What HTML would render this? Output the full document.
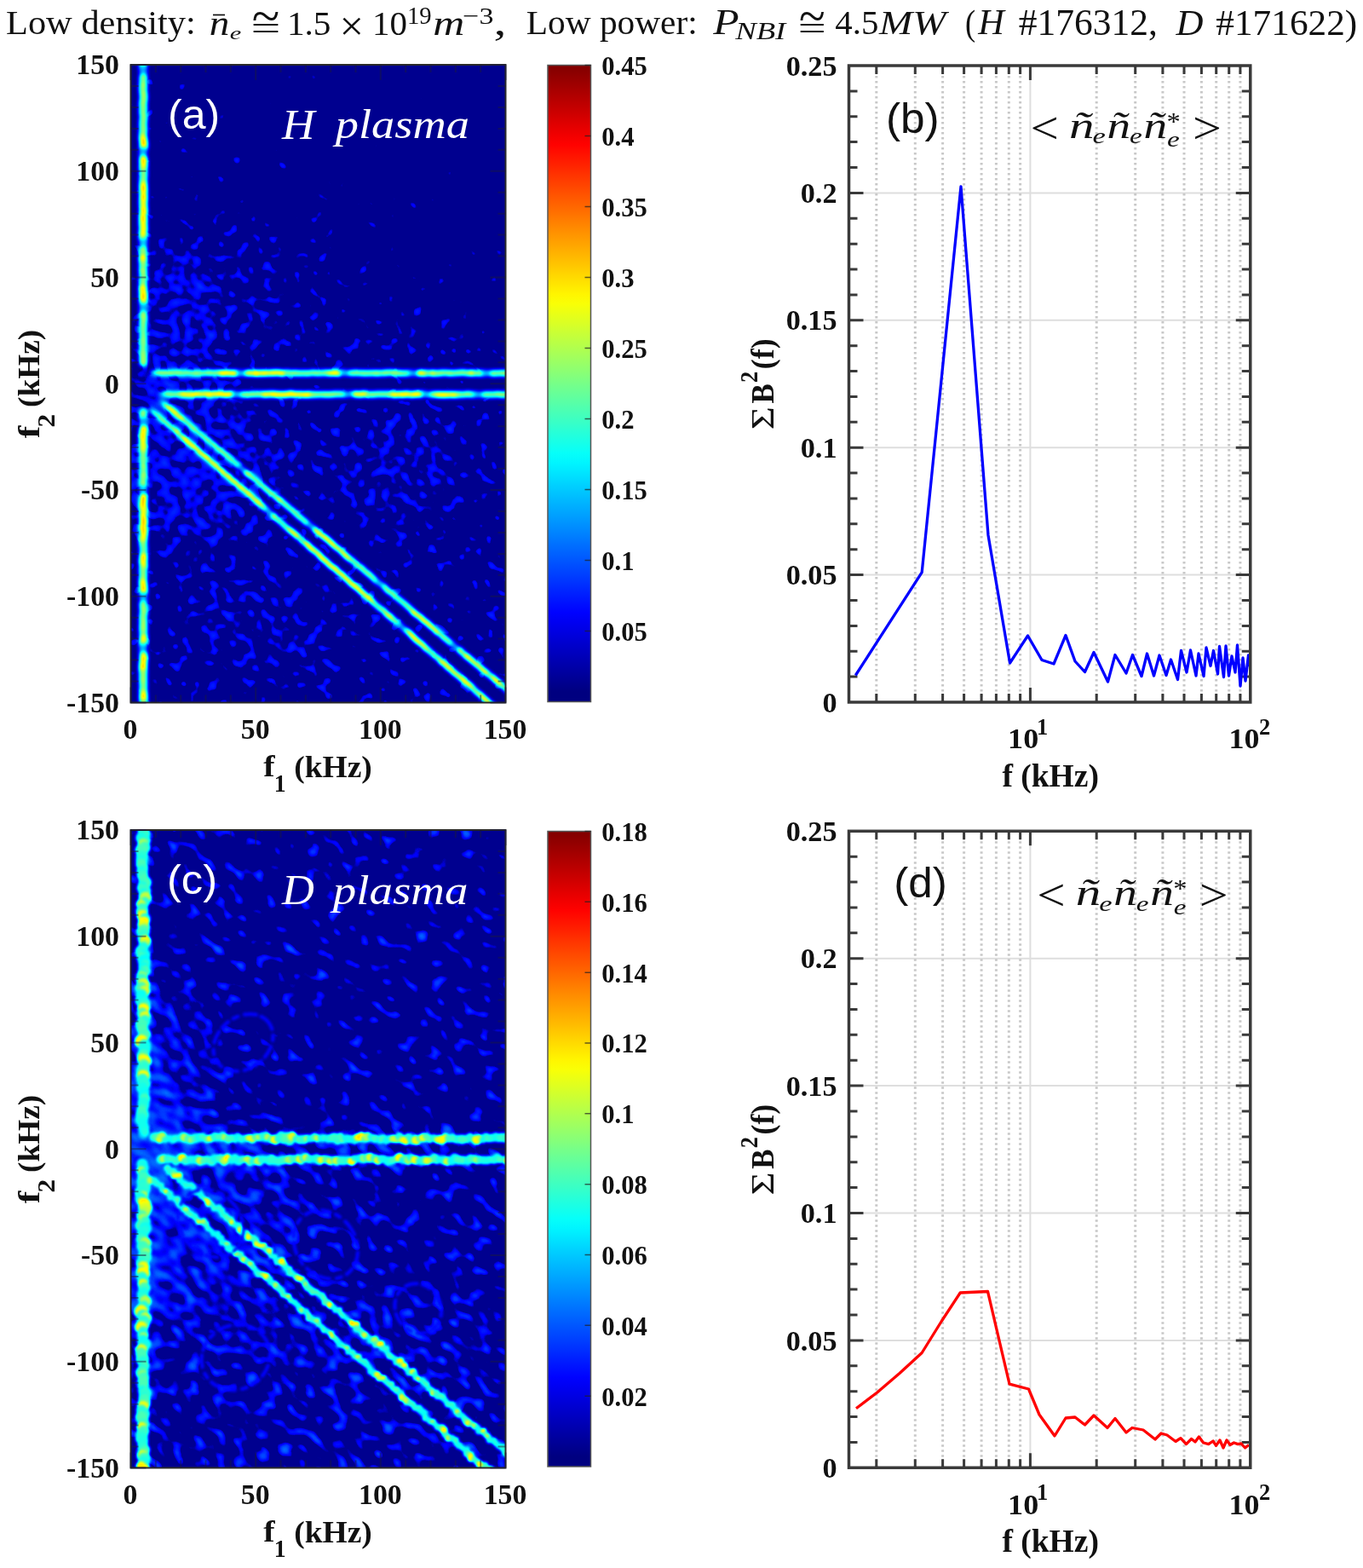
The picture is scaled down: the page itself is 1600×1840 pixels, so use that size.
<!DOCTYPE html><html><head><meta charset='utf-8'><title>Bispectrum</title><style>html,body{margin:0;padding:0;background:#fff;}svg{display:block;}</style></head><body><svg width='1600' height='1840' viewBox='0 0 1600 1840'><rect width='1600' height='1840' fill='#ffffff'/><defs><linearGradient id='jetg' x1='0' y1='0' x2='0' y2='1'><stop offset='0.0000' stop-color='#800000'/><stop offset='0.0156' stop-color='#900000'/><stop offset='0.0312' stop-color='#a00000'/><stop offset='0.0469' stop-color='#b00000'/><stop offset='0.0625' stop-color='#c00000'/><stop offset='0.0781' stop-color='#d00000'/><stop offset='0.0938' stop-color='#e10000'/><stop offset='0.1094' stop-color='#f10000'/><stop offset='0.1250' stop-color='#ff0200'/><stop offset='0.1406' stop-color='#ff1200'/><stop offset='0.1562' stop-color='#ff2200'/><stop offset='0.1719' stop-color='#ff3300'/><stop offset='0.1875' stop-color='#ff4300'/><stop offset='0.2031' stop-color='#ff5300'/><stop offset='0.2188' stop-color='#ff6300'/><stop offset='0.2344' stop-color='#ff7300'/><stop offset='0.2500' stop-color='#ff8400'/><stop offset='0.2656' stop-color='#ff9400'/><stop offset='0.2812' stop-color='#ffa400'/><stop offset='0.2969' stop-color='#ffb400'/><stop offset='0.3125' stop-color='#ffc400'/><stop offset='0.3281' stop-color='#ffd500'/><stop offset='0.3438' stop-color='#ffe500'/><stop offset='0.3594' stop-color='#fff500'/><stop offset='0.3750' stop-color='#f9ff06'/><stop offset='0.3906' stop-color='#e9ff16'/><stop offset='0.4062' stop-color='#d9ff26'/><stop offset='0.4219' stop-color='#c8ff37'/><stop offset='0.4375' stop-color='#b8ff47'/><stop offset='0.4531' stop-color='#a8ff57'/><stop offset='0.4688' stop-color='#98ff67'/><stop offset='0.4844' stop-color='#88ff77'/><stop offset='0.5000' stop-color='#77ff88'/><stop offset='0.5156' stop-color='#67ff98'/><stop offset='0.5312' stop-color='#57ffa8'/><stop offset='0.5469' stop-color='#47ffb8'/><stop offset='0.5625' stop-color='#37ffc8'/><stop offset='0.5781' stop-color='#26ffd9'/><stop offset='0.5938' stop-color='#16ffe9'/><stop offset='0.6094' stop-color='#06fff9'/><stop offset='0.6250' stop-color='#00f5ff'/><stop offset='0.6406' stop-color='#00e5ff'/><stop offset='0.6562' stop-color='#00d4ff'/><stop offset='0.6719' stop-color='#00c4ff'/><stop offset='0.6875' stop-color='#00b4ff'/><stop offset='0.7031' stop-color='#00a4ff'/><stop offset='0.7188' stop-color='#0094ff'/><stop offset='0.7344' stop-color='#0084ff'/><stop offset='0.7500' stop-color='#0073ff'/><stop offset='0.7656' stop-color='#0063ff'/><stop offset='0.7812' stop-color='#0053ff'/><stop offset='0.7969' stop-color='#0043ff'/><stop offset='0.8125' stop-color='#0033ff'/><stop offset='0.8281' stop-color='#0022ff'/><stop offset='0.8438' stop-color='#0012ff'/><stop offset='0.8594' stop-color='#0002ff'/><stop offset='0.8750' stop-color='#0000f1'/><stop offset='0.8906' stop-color='#0000e1'/><stop offset='0.9062' stop-color='#0000d0'/><stop offset='0.9219' stop-color='#0000c0'/><stop offset='0.9375' stop-color='#0000b0'/><stop offset='0.9531' stop-color='#0000a0'/><stop offset='0.9688' stop-color='#000090'/><stop offset='0.9844' stop-color='#000080'/></linearGradient><filter id='jetmap' color-interpolation-filters='sRGB'><feComponentTransfer><feFuncR type='table' tableValues='0.000 0.000 0.000 0.000 0.000 0.000 0.000 0.000 0.000 0.000 0.000 0.000 0.000 0.125 0.251 0.376 0.502 0.624 0.749 0.875 1.000 1.000 1.000 1.000 1.000 1.000 1.000 1.000 1.000 0.875 0.749 0.624 0.502'/><feFuncG type='table' tableValues='0.000 0.000 0.000 0.000 0.000 0.125 0.251 0.376 0.502 0.624 0.749 0.875 1.000 1.000 1.000 1.000 1.000 1.000 1.000 1.000 1.000 0.875 0.749 0.624 0.502 0.376 0.251 0.125 0.000 0.000 0.000 0.000 0.000'/><feFuncB type='table' tableValues='0.502 0.624 0.749 0.875 1.000 1.000 1.000 1.000 1.000 1.000 1.000 1.000 1.000 0.875 0.749 0.624 0.502 0.376 0.251 0.125 0.000 0.000 0.000 0.000 0.000 0.000 0.000 0.000 0.000 0.000 0.000 0.000 0.000'/></feComponentTransfer></filter><radialGradient id='dgw'><stop offset='0' stop-color='#fff' stop-opacity='1'/><stop offset='0.55' stop-color='#fff' stop-opacity='0.75'/><stop offset='1' stop-color='#fff' stop-opacity='0'/></radialGradient><radialGradient id='dgk'><stop offset='0' stop-color='#000' stop-opacity='1'/><stop offset='1' stop-color='#000' stop-opacity='0'/></radialGradient><clipPath id='hac'><rect x='153.5' y='76' width='440.0' height='748.5'/></clipPath><filter id='hat' filterUnits='userSpaceOnUse' x='-700' y='-700' width='1400' height='1400' color-interpolation-filters='sRGB'><feTurbulence type='fractalNoise' baseFrequency='0.1' numOctaves='1' seed='4'/><feColorMatrix type='matrix' values='1 0 0 0 0  1 0 0 0 0  1 0 0 0 0  0 0 0 0 1'/></filter><filter id='hah' filterUnits='userSpaceOnUse' x='153.5' y='76' width='440.0' height='748.5' color-interpolation-filters='sRGB'><feComponentTransfer><feFuncR type='table' tableValues='0.016 0.016 0.016 0.016 0.016 0.016 0.016 0.016 0.016 0.016 0.016 0.016 0.016 0.016 0.125 0.14 0.15 0.165 0.18 0.19 0.19'/><feFuncG type='table' tableValues='0.016 0.016 0.016 0.016 0.016 0.016 0.016 0.016 0.016 0.016 0.016 0.016 0.016 0.016 0.125 0.14 0.15 0.165 0.18 0.19 0.19'/><feFuncB type='table' tableValues='0.016 0.016 0.016 0.016 0.016 0.016 0.016 0.016 0.016 0.016 0.016 0.016 0.016 0.016 0.125 0.14 0.15 0.165 0.18 0.19 0.19'/></feComponentTransfer><feGaussianBlur stdDeviation='0.5'/></filter><filter id='hab' filterUnits='userSpaceOnUse' x='133.5' y='56' width='480.0' height='788.5' color-interpolation-filters='sRGB'><feGaussianBlur stdDeviation='2.0'/></filter><linearGradient id='hadg' gradientUnits='userSpaceOnUse' x1='153.5' y1='824.5' x2='593.5' y2='76'><stop offset='0' stop-color='#fff' stop-opacity='0.05'/><stop offset='0.3' stop-color='#fff' stop-opacity='0.08'/><stop offset='0.45' stop-color='#fff' stop-opacity='0.0'/><stop offset='0.6' stop-color='#000' stop-opacity='0.05'/><stop offset='1' stop-color='#000' stop-opacity='0.2'/></linearGradient><clipPath id='hcc'><rect x='153.5' y='974' width='440.0' height='748.5'/></clipPath><filter id='hct' filterUnits='userSpaceOnUse' x='-700' y='-700' width='1400' height='1400' color-interpolation-filters='sRGB'><feTurbulence type='fractalNoise' baseFrequency='0.08' numOctaves='1' seed='9'/><feColorMatrix type='matrix' values='1 0 0 0 0  1 0 0 0 0  1 0 0 0 0  0 0 0 0 1'/></filter><filter id='hch' filterUnits='userSpaceOnUse' x='153.5' y='974' width='440.0' height='748.5' color-interpolation-filters='sRGB'><feComponentTransfer><feFuncR type='table' tableValues='0.016 0.016 0.016 0.016 0.016 0.016 0.016 0.016 0.016 0.016 0.016 0.016 0.016 0.016 0.12 0.15 0.19 0.22 0.25 0.27 0.27'/><feFuncG type='table' tableValues='0.016 0.016 0.016 0.016 0.016 0.016 0.016 0.016 0.016 0.016 0.016 0.016 0.016 0.016 0.12 0.15 0.19 0.22 0.25 0.27 0.27'/><feFuncB type='table' tableValues='0.016 0.016 0.016 0.016 0.016 0.016 0.016 0.016 0.016 0.016 0.016 0.016 0.016 0.016 0.12 0.15 0.19 0.22 0.25 0.27 0.27'/></feComponentTransfer><feGaussianBlur stdDeviation='0.7'/></filter><filter id='hcb' filterUnits='userSpaceOnUse' x='133.5' y='954' width='480.0' height='788.5' color-interpolation-filters='sRGB'><feGaussianBlur stdDeviation='1.6'/></filter><linearGradient id='hcdg' gradientUnits='userSpaceOnUse' x1='153.5' y1='1722.5' x2='593.5' y2='974'><stop offset='0' stop-color='#fff' stop-opacity='0.24'/><stop offset='0.35' stop-color='#fff' stop-opacity='0.22'/><stop offset='0.55' stop-color='#fff' stop-opacity='0.15'/><stop offset='1' stop-color='#fff' stop-opacity='0.1'/></linearGradient></defs><text transform='translate(6.98,39.78) scale(1.084,1)' font-family="'Liberation Serif', 'DejaVu Serif', serif" font-size='39.17' font-weight='normal' font-style='normal' fill='#111'>Low density:</text>
<text transform='translate(245.85,41.45) scale(1.206,1)' font-family="'Liberation Serif', 'DejaVu Serif', serif" font-size='39.03' font-weight='normal' font-style='italic' fill='#111'>n</text>
<line x1='250' y1='17.5' x2='264' y2='17.5' stroke='#111' stroke-width='1.7'/>
<text transform='translate(269.68,46.04) scale(1.465,1)' font-family="'Liberation Serif', 'DejaVu Serif', serif" font-size='20.83' font-weight='normal' font-style='italic' fill='#111'>e</text>
<text transform='translate(295.70,39.25) scale(0.988,1)' font-family="'Liberation Serif', 'DejaVu Serif', serif" font-size='60.61' font-weight='normal' font-style='normal' fill='#111'>~</text>
<text transform='translate(294.41,46.25) scale(1.594,1)' font-family="'Liberation Serif', 'DejaVu Serif', serif" font-size='38.80' font-weight='normal' font-style='normal' fill='#111'>=</text>
<text transform='translate(938.00,39.25) scale(0.935,1)' font-family="'Liberation Serif', 'DejaVu Serif', serif" font-size='60.61' font-weight='normal' font-style='normal' fill='#111'>~</text>
<text transform='translate(936.78,46.25) scale(1.508,1)' font-family="'Liberation Serif', 'DejaVu Serif', serif" font-size='38.80' font-weight='normal' font-style='normal' fill='#111'>=</text>
<text transform='translate(336.88,40.63) scale(1.007,1)' font-family="'Liberation Serif', 'DejaVu Serif', serif" font-size='41.04' font-weight='normal' font-style='normal' fill='#111'>1.5</text>
<text transform='translate(398.45,46.81) scale(1.059,1)' font-family="'Liberation Serif', 'DejaVu Serif', serif" font-size='47.78' font-weight='normal' font-style='normal' fill='#111'>&#215;</text>
<text transform='translate(436.91,40.84) scale(1.006,1)' font-family="'Liberation Serif', 'DejaVu Serif', serif" font-size='40.74' font-weight='normal' font-style='normal' fill='#111'>10</text>
<text transform='translate(478.01,27.81) scale(0.995,1)' font-family="'Liberation Serif', 'DejaVu Serif', serif" font-size='28.88' font-weight='normal' font-style='normal' fill='#111'>19</text>
<text transform='translate(508.20,41.45) scale(1.273,1)' font-family="'Liberation Serif', 'DejaVu Serif', serif" font-size='40.32' font-weight='normal' font-style='italic' fill='#111'>m</text>
<text transform='translate(543.30,27.82) scale(1.216,1)' font-family="'Liberation Serif', 'DejaVu Serif', serif" font-size='27.91' font-weight='normal' font-style='normal' fill='#111'>&#8722;3</text>
<text transform='translate(579.50,41.13) scale(1.291,1)' font-family="'Liberation Serif', 'DejaVu Serif', serif" font-size='46.47' font-weight='normal' font-style='normal' fill='#111'>,</text>
<text transform='translate(617.76,39.58) scale(1.031,1)' font-family="'Liberation Serif', 'DejaVu Serif', serif" font-size='40.12' font-weight='normal' font-style='normal' fill='#111'>Low power:</text>
<text transform='translate(837.25,40.00) scale(1.196,1)' font-family="'Liberation Serif', 'DejaVu Serif', serif" font-size='41.53' font-weight='normal' font-style='italic' fill='#111'>P</text>
<text transform='translate(863.18,45.60) scale(1.287,1)' font-family="'Liberation Serif', 'DejaVu Serif', serif" font-size='28.55' font-weight='normal' font-style='italic' fill='#111'>NBI</text>
<text transform='translate(980.18,39.71) scale(1.043,1)' font-family="'Liberation Serif', 'DejaVu Serif', serif" font-size='39.25' font-weight='normal' font-style='normal' fill='#111'>4.5</text>
<text transform='translate(1032.07,39.69) scale(1.153,1)' font-family="'Liberation Serif', 'DejaVu Serif', serif" font-size='40.90' font-weight='normal' font-style='italic' fill='#111'>MW</text>
<text transform='translate(1133.06,40.73) scale(0.854,1)' font-family="'Liberation Serif', 'DejaVu Serif', serif" font-size='42.72' font-weight='normal' font-style='normal' fill='#111'>(</text>
<text transform='translate(1148.22,40.30) scale(1.019,1)' font-family="'Liberation Serif', 'DejaVu Serif', serif" font-size='41.53' font-weight='normal' font-style='italic' fill='#111'>H</text>
<text transform='translate(1195.73,41.21) scale(0.990,1)' font-family="'Liberation Serif', 'DejaVu Serif', serif" font-size='43.95' font-weight='normal' font-style='normal' fill='#111'>#176312,</text>
<text transform='translate(1380.44,41.00) scale(1.033,1)' font-family="'Liberation Serif', 'DejaVu Serif', serif" font-size='42.90' font-weight='normal' font-style='italic' fill='#111'>D</text>
<text transform='translate(1427.33,41.25) scale(1.004,1)' font-family="'Liberation Serif', 'DejaVu Serif', serif" font-size='43.11' font-weight='normal' font-style='normal' fill='#111'>#171622)</text>
<g clip-path='url(#hac)'><g filter='url(#jetmap)'>
<rect x='153.5' y='76' width='440.0' height='748.5' fill='#000'/>
<g filter='url(#hah)'>
<g transform='translate(373.5,450.2) rotate(38) scale(1.15,0.95)'><rect x='-700' y='-700' width='1400' height='1400' filter='url(#hat)'/></g>
<rect x='153.5' y='76' width='440.0' height='748.5' fill='url(#hadg)'/>
<ellipse cx='226.8' cy='537.6' rx='146.7' ry='149.7' fill='url(#dgw)' opacity='0.38'/>
<ellipse cx='197.5' cy='375.4' rx='73.3' ry='137.2' fill='url(#dgw)' opacity='0.32'/>
<ellipse cx='300.2' cy='737.2' rx='146.7' ry='87.3' fill='url(#dgw)' opacity='0.2'/>
<ellipse cx='285.5' cy='338.0' rx='117.3' ry='99.8' fill='url(#dgw)' opacity='0.24'/>
<ellipse cx='476.2' cy='550.0' rx='102.7' ry='112.3' fill='url(#dgw)' opacity='0.2'/>
<ellipse cx='446.8' cy='400.4' rx='176.0' ry='49.9' fill='url(#dgw)' opacity='0.18'/>
<ellipse cx='446.8' cy='550.0' rx='146.7' ry='74.9' fill='url(#dgw)' opacity='0.15'/>
</g>
<g filter='url(#hab)' stroke-linecap='round'>
<line x1='168.2' y1='71.0' x2='167.8' y2='76.1' stroke='#7b7b7b' stroke-width='9.5'/>
<line x1='167.8' y1='76.1' x2='167.9' y2='81.1' stroke='#8b8b8b' stroke-width='9.5'/>
<line x1='167.9' y1='81.1' x2='168.4' y2='86.2' stroke='#4b4b4b' stroke-width='9.5'/>
<line x1='168.4' y1='86.2' x2='168.2' y2='91.3' stroke='#474747' stroke-width='9.5'/>
<line x1='168.2' y1='91.3' x2='168.2' y2='96.3' stroke='#838383' stroke-width='9.5'/>
<line x1='168.2' y1='96.3' x2='168.0' y2='101.4' stroke='#7e7e7e' stroke-width='9.5'/>
<line x1='168.0' y1='101.4' x2='167.9' y2='106.4' stroke='#8a8a8a' stroke-width='9.5'/>
<line x1='167.9' y1='106.4' x2='168.6' y2='111.5' stroke='#828282' stroke-width='9.5'/>
<line x1='168.6' y1='111.5' x2='168.6' y2='116.6' stroke='#8a8a8a' stroke-width='9.5'/>
<line x1='168.6' y1='116.6' x2='167.8' y2='121.6' stroke='#888888' stroke-width='9.5'/>
<line x1='167.8' y1='121.6' x2='168.2' y2='126.7' stroke='#878787' stroke-width='9.5'/>
<line x1='168.2' y1='126.7' x2='167.9' y2='131.7' stroke='#838383' stroke-width='9.5'/>
<line x1='167.9' y1='131.7' x2='168.7' y2='136.8' stroke='#818181' stroke-width='9.5'/>
<line x1='168.7' y1='136.8' x2='168.2' y2='141.9' stroke='#848484' stroke-width='9.5'/>
<line x1='168.2' y1='141.9' x2='167.9' y2='146.9' stroke='#828282' stroke-width='9.5'/>
<line x1='167.9' y1='146.9' x2='168.4' y2='152.0' stroke='#808080' stroke-width='9.5'/>
<line x1='168.4' y1='152.0' x2='167.7' y2='157.1' stroke='#858585' stroke-width='9.5'/>
<line x1='167.7' y1='157.1' x2='167.8' y2='162.1' stroke='#828282' stroke-width='9.5'/>
<line x1='167.8' y1='162.1' x2='168.6' y2='167.2' stroke='#9f9f9f' stroke-width='9.5'/>
<line x1='168.6' y1='167.2' x2='168.6' y2='172.2' stroke='#aeaeae' stroke-width='9.5'/>
<line x1='168.6' y1='172.2' x2='168.1' y2='177.3' stroke='#acacac' stroke-width='9.5'/>
<line x1='168.1' y1='177.3' x2='167.7' y2='182.4' stroke='#494949' stroke-width='9.5'/>
<line x1='167.7' y1='182.4' x2='168.3' y2='187.4' stroke='#525252' stroke-width='9.5'/>
<line x1='168.3' y1='187.4' x2='168.5' y2='192.5' stroke='#ababab' stroke-width='9.5'/>
<line x1='168.5' y1='192.5' x2='168.2' y2='197.5' stroke='#a9a9a9' stroke-width='9.5'/>
<line x1='168.2' y1='197.5' x2='168.6' y2='202.6' stroke='#9c9c9c' stroke-width='9.5'/>
<line x1='168.6' y1='202.6' x2='168.4' y2='207.7' stroke='#7d7d7d' stroke-width='9.5'/>
<line x1='168.4' y1='207.7' x2='168.2' y2='212.7' stroke='#828282' stroke-width='9.5'/>
<line x1='168.2' y1='212.7' x2='168.2' y2='217.8' stroke='#828282' stroke-width='9.5'/>
<line x1='168.2' y1='217.8' x2='168.4' y2='222.8' stroke='#a4a4a4' stroke-width='9.5'/>
<line x1='168.4' y1='222.8' x2='168.4' y2='227.9' stroke='#afafaf' stroke-width='9.5'/>
<line x1='168.4' y1='227.9' x2='168.4' y2='233.0' stroke='#9f9f9f' stroke-width='9.5'/>
<line x1='168.4' y1='233.0' x2='168.2' y2='238.0' stroke='#adadad' stroke-width='9.5'/>
<line x1='168.2' y1='238.0' x2='168.4' y2='243.1' stroke='#9e9e9e' stroke-width='9.5'/>
<line x1='168.4' y1='243.1' x2='168.6' y2='248.2' stroke='#9e9e9e' stroke-width='9.5'/>
<line x1='168.6' y1='248.2' x2='167.8' y2='253.2' stroke='#aaaaaa' stroke-width='9.5'/>
<line x1='167.8' y1='253.2' x2='168.1' y2='258.3' stroke='#a0a0a0' stroke-width='9.5'/>
<line x1='168.1' y1='258.3' x2='168.0' y2='263.3' stroke='#acacac' stroke-width='9.5'/>
<line x1='168.0' y1='263.3' x2='168.5' y2='268.4' stroke='#a0a0a0' stroke-width='9.5'/>
<line x1='168.5' y1='268.4' x2='167.7' y2='273.5' stroke='#a3a3a3' stroke-width='9.5'/>
<line x1='167.7' y1='273.5' x2='167.8' y2='278.5' stroke='#a2a2a2' stroke-width='9.5'/>
<line x1='167.8' y1='278.5' x2='168.5' y2='283.6' stroke='#9c9c9c' stroke-width='9.5'/>
<line x1='168.5' y1='283.6' x2='168.3' y2='288.6' stroke='#545454' stroke-width='9.5'/>
<line x1='168.3' y1='288.6' x2='167.9' y2='293.7' stroke='#525252' stroke-width='9.5'/>
<line x1='167.9' y1='293.7' x2='168.0' y2='298.8' stroke='#8a8a8a' stroke-width='9.5'/>
<line x1='168.0' y1='298.8' x2='167.7' y2='303.8' stroke='#818181' stroke-width='9.5'/>
<line x1='167.7' y1='303.8' x2='168.2' y2='308.9' stroke='#aeaeae' stroke-width='9.5'/>
<line x1='168.2' y1='308.9' x2='167.8' y2='314.0' stroke='#8b8b8b' stroke-width='9.5'/>
<line x1='167.8' y1='314.0' x2='168.0' y2='319.0' stroke='#7d7d7d' stroke-width='9.5'/>
<line x1='168.0' y1='319.0' x2='168.4' y2='324.1' stroke='#8b8b8b' stroke-width='9.5'/>
<line x1='168.4' y1='324.1' x2='168.1' y2='329.1' stroke='#838383' stroke-width='9.5'/>
<line x1='168.1' y1='329.1' x2='167.8' y2='334.2' stroke='#808080' stroke-width='9.5'/>
<line x1='167.8' y1='334.2' x2='167.8' y2='339.3' stroke='#818181' stroke-width='9.5'/>
<line x1='167.8' y1='339.3' x2='168.2' y2='344.3' stroke='#a9a9a9' stroke-width='9.5'/>
<line x1='168.2' y1='344.3' x2='168.1' y2='349.4' stroke='#a2a2a2' stroke-width='9.5'/>
<line x1='168.1' y1='349.4' x2='168.6' y2='354.4' stroke='#afafaf' stroke-width='9.5'/>
<line x1='168.6' y1='354.4' x2='168.4' y2='359.5' stroke='#a2a2a2' stroke-width='9.5'/>
<line x1='168.4' y1='359.5' x2='167.9' y2='364.6' stroke='#515151' stroke-width='9.5'/>
<line x1='167.9' y1='364.6' x2='168.3' y2='369.6' stroke='#4a4a4a' stroke-width='9.5'/>
<line x1='168.3' y1='369.6' x2='168.5' y2='374.7' stroke='#8a8a8a' stroke-width='9.5'/>
<line x1='168.5' y1='374.7' x2='168.1' y2='379.7' stroke='#898989' stroke-width='9.5'/>
<line x1='168.1' y1='379.7' x2='168.0' y2='384.8' stroke='#828282' stroke-width='9.5'/>
<line x1='168.0' y1='384.8' x2='168.0' y2='389.9' stroke='#7e7e7e' stroke-width='9.5'/>
<line x1='168.0' y1='389.9' x2='168.3' y2='394.9' stroke='#7b7b7b' stroke-width='9.5'/>
<line x1='168.3' y1='394.9' x2='168.2' y2='400.0' stroke='#7e7e7e' stroke-width='9.5'/>
<line x1='168.2' y1='400.0' x2='168.2' y2='405.1' stroke='#848484' stroke-width='9.5'/>
<line x1='168.2' y1='405.1' x2='167.9' y2='410.1' stroke='#808080' stroke-width='9.5'/>
<line x1='167.9' y1='410.1' x2='168.1' y2='415.2' stroke='#7f7f7f' stroke-width='9.5'/>
<line x1='168.1' y1='415.2' x2='168.3' y2='420.2' stroke='#848484' stroke-width='9.5'/>
<line x1='168.3' y1='420.2' x2='168.2' y2='425.3' stroke='#898989' stroke-width='9.5'/>
<line x1='168.2' y1='483.9' x2='168.1' y2='488.9' stroke='#828282' stroke-width='9.5'/>
<line x1='168.1' y1='488.9' x2='168.6' y2='493.9' stroke='#858585' stroke-width='9.5'/>
<line x1='168.6' y1='493.9' x2='168.6' y2='499.0' stroke='#4b4b4b' stroke-width='9.5'/>
<line x1='168.6' y1='499.0' x2='168.6' y2='504.0' stroke='#4a4a4a' stroke-width='9.5'/>
<line x1='168.6' y1='504.0' x2='167.8' y2='509.0' stroke='#aeaeae' stroke-width='9.5'/>
<line x1='167.8' y1='509.0' x2='167.9' y2='514.0' stroke='#a2a2a2' stroke-width='9.5'/>
<line x1='167.9' y1='514.0' x2='167.8' y2='519.0' stroke='#a8a8a8' stroke-width='9.5'/>
<line x1='167.8' y1='519.0' x2='168.3' y2='524.0' stroke='#a0a0a0' stroke-width='9.5'/>
<line x1='168.3' y1='524.0' x2='168.1' y2='529.0' stroke='#9c9c9c' stroke-width='9.5'/>
<line x1='168.1' y1='529.0' x2='167.9' y2='534.0' stroke='#9c9c9c' stroke-width='9.5'/>
<line x1='167.9' y1='534.0' x2='168.3' y2='539.0' stroke='#7f7f7f' stroke-width='9.5'/>
<line x1='168.3' y1='539.0' x2='168.1' y2='544.0' stroke='#828282' stroke-width='9.5'/>
<line x1='168.1' y1='544.0' x2='168.4' y2='549.0' stroke='#7d7d7d' stroke-width='9.5'/>
<line x1='168.4' y1='549.0' x2='168.6' y2='554.0' stroke='#888888' stroke-width='9.5'/>
<line x1='168.6' y1='554.0' x2='168.4' y2='559.1' stroke='#7d7d7d' stroke-width='9.5'/>
<line x1='168.4' y1='559.1' x2='167.8' y2='564.1' stroke='#8b8b8b' stroke-width='9.5'/>
<line x1='167.8' y1='564.1' x2='168.1' y2='569.1' stroke='#808080' stroke-width='9.5'/>
<line x1='168.1' y1='569.1' x2='167.7' y2='574.1' stroke='#8a8a8a' stroke-width='9.5'/>
<line x1='167.7' y1='574.1' x2='168.2' y2='579.1' stroke='#535353' stroke-width='9.5'/>
<line x1='168.2' y1='579.1' x2='168.4' y2='584.1' stroke='#474747' stroke-width='9.5'/>
<line x1='168.4' y1='584.1' x2='167.9' y2='589.1' stroke='#afafaf' stroke-width='9.5'/>
<line x1='167.9' y1='589.1' x2='167.8' y2='594.1' stroke='#afafaf' stroke-width='9.5'/>
<line x1='167.8' y1='594.1' x2='168.7' y2='599.1' stroke='#ababab' stroke-width='9.5'/>
<line x1='168.7' y1='599.1' x2='168.0' y2='604.1' stroke='#9f9f9f' stroke-width='9.5'/>
<line x1='168.0' y1='604.1' x2='168.6' y2='609.1' stroke='#9e9e9e' stroke-width='9.5'/>
<line x1='168.6' y1='609.1' x2='168.6' y2='614.1' stroke='#a9a9a9' stroke-width='9.5'/>
<line x1='168.6' y1='614.1' x2='167.8' y2='619.2' stroke='#b0b0b0' stroke-width='9.5'/>
<line x1='167.8' y1='619.2' x2='168.6' y2='624.2' stroke='#a7a7a7' stroke-width='9.5'/>
<line x1='168.6' y1='624.2' x2='168.4' y2='629.2' stroke='#adadad' stroke-width='9.5'/>
<line x1='168.4' y1='629.2' x2='167.7' y2='634.2' stroke='#a3a3a3' stroke-width='9.5'/>
<line x1='167.7' y1='634.2' x2='168.2' y2='639.2' stroke='#a0a0a0' stroke-width='9.5'/>
<line x1='168.2' y1='639.2' x2='168.6' y2='644.2' stroke='#818181' stroke-width='9.5'/>
<line x1='168.6' y1='644.2' x2='168.5' y2='649.2' stroke='#7b7b7b' stroke-width='9.5'/>
<line x1='168.5' y1='649.2' x2='168.4' y2='654.2' stroke='#7c7c7c' stroke-width='9.5'/>
<line x1='168.4' y1='654.2' x2='167.9' y2='659.2' stroke='#adadad' stroke-width='9.5'/>
<line x1='167.9' y1='659.2' x2='168.6' y2='664.2' stroke='#a4a4a4' stroke-width='9.5'/>
<line x1='168.6' y1='664.2' x2='167.8' y2='669.2' stroke='#a0a0a0' stroke-width='9.5'/>
<line x1='167.8' y1='669.2' x2='168.3' y2='674.2' stroke='#838383' stroke-width='9.5'/>
<line x1='168.3' y1='674.2' x2='167.7' y2='679.2' stroke='#828282' stroke-width='9.5'/>
<line x1='167.7' y1='679.2' x2='167.8' y2='684.3' stroke='#878787' stroke-width='9.5'/>
<line x1='167.8' y1='684.3' x2='168.4' y2='689.3' stroke='#a5a5a5' stroke-width='9.5'/>
<line x1='168.4' y1='689.3' x2='168.4' y2='694.3' stroke='#a7a7a7' stroke-width='9.5'/>
<line x1='168.4' y1='694.3' x2='168.2' y2='699.3' stroke='#afafaf' stroke-width='9.5'/>
<line x1='168.2' y1='699.3' x2='168.6' y2='704.3' stroke='#4f4f4f' stroke-width='9.5'/>
<line x1='168.6' y1='704.3' x2='168.0' y2='709.3' stroke='#464646' stroke-width='9.5'/>
<line x1='168.0' y1='709.3' x2='168.6' y2='714.3' stroke='#7d7d7d' stroke-width='9.5'/>
<line x1='168.6' y1='714.3' x2='168.7' y2='719.3' stroke='#898989' stroke-width='9.5'/>
<line x1='168.7' y1='719.3' x2='167.7' y2='724.3' stroke='#868686' stroke-width='9.5'/>
<line x1='167.7' y1='724.3' x2='168.4' y2='729.3' stroke='#808080' stroke-width='9.5'/>
<line x1='168.4' y1='729.3' x2='168.1' y2='734.3' stroke='#878787' stroke-width='9.5'/>
<line x1='168.1' y1='734.3' x2='168.2' y2='739.3' stroke='#898989' stroke-width='9.5'/>
<line x1='168.2' y1='739.3' x2='168.4' y2='744.4' stroke='#8b8b8b' stroke-width='9.5'/>
<line x1='168.4' y1='744.4' x2='168.6' y2='749.4' stroke='#7d7d7d' stroke-width='9.5'/>
<line x1='168.6' y1='749.4' x2='167.8' y2='754.4' stroke='#a7a7a7' stroke-width='9.5'/>
<line x1='167.8' y1='754.4' x2='167.7' y2='759.4' stroke='#9c9c9c' stroke-width='9.5'/>
<line x1='167.7' y1='759.4' x2='167.7' y2='764.4' stroke='#505050' stroke-width='9.5'/>
<line x1='167.7' y1='764.4' x2='168.6' y2='769.4' stroke='#4a4a4a' stroke-width='9.5'/>
<line x1='168.6' y1='769.4' x2='168.5' y2='774.4' stroke='#9c9c9c' stroke-width='9.5'/>
<line x1='168.5' y1='774.4' x2='168.0' y2='779.4' stroke='#adadad' stroke-width='9.5'/>
<line x1='168.0' y1='779.4' x2='167.7' y2='784.4' stroke='#a1a1a1' stroke-width='9.5'/>
<line x1='167.7' y1='784.4' x2='168.1' y2='789.4' stroke='#b0b0b0' stroke-width='9.5'/>
<line x1='168.1' y1='789.4' x2='168.0' y2='794.4' stroke='#898989' stroke-width='9.5'/>
<line x1='168.0' y1='794.4' x2='168.0' y2='799.4' stroke='#868686' stroke-width='9.5'/>
<line x1='168.0' y1='799.4' x2='168.4' y2='804.4' stroke='#8a8a8a' stroke-width='9.5'/>
<line x1='168.4' y1='804.4' x2='168.1' y2='809.5' stroke='#818181' stroke-width='9.5'/>
<line x1='168.1' y1='809.5' x2='168.4' y2='814.5' stroke='#818181' stroke-width='9.5'/>
<line x1='168.4' y1='814.5' x2='168.4' y2='819.5' stroke='#9e9e9e' stroke-width='9.5'/>
<line x1='168.4' y1='819.5' x2='168.6' y2='824.5' stroke='#b0b0b0' stroke-width='9.5'/>
<line x1='168.6' y1='824.5' x2='168.2' y2='829.5' stroke='#818181' stroke-width='9.5'/>
<line x1='179.9' y1='437.8' x2='185.0' y2='437.4' stroke='#4f4f4f' stroke-width='7.5'/>
<line x1='185.0' y1='437.4' x2='190.0' y2='437.6' stroke='#858585' stroke-width='7.5'/>
<line x1='190.0' y1='437.6' x2='195.1' y2='437.5' stroke='#8a8a8a' stroke-width='7.5'/>
<line x1='195.1' y1='437.5' x2='200.1' y2='438.0' stroke='#898989' stroke-width='7.5'/>
<line x1='200.1' y1='438.0' x2='205.2' y2='437.3' stroke='#888888' stroke-width='7.5'/>
<line x1='205.2' y1='437.3' x2='210.2' y2='437.5' stroke='#808080' stroke-width='7.5'/>
<line x1='210.2' y1='437.5' x2='215.3' y2='437.7' stroke='#898989' stroke-width='7.5'/>
<line x1='215.3' y1='437.7' x2='220.3' y2='437.3' stroke='#7d7d7d' stroke-width='7.5'/>
<line x1='220.3' y1='437.3' x2='225.4' y2='437.9' stroke='#828282' stroke-width='7.5'/>
<line x1='225.4' y1='437.9' x2='230.4' y2='437.9' stroke='#7b7b7b' stroke-width='7.5'/>
<line x1='230.4' y1='437.9' x2='235.5' y2='438.1' stroke='#878787' stroke-width='7.5'/>
<line x1='235.5' y1='438.1' x2='240.5' y2='437.5' stroke='#808080' stroke-width='7.5'/>
<line x1='240.5' y1='437.5' x2='245.6' y2='437.6' stroke='#7a7a7a' stroke-width='7.5'/>
<line x1='245.6' y1='437.6' x2='250.7' y2='437.8' stroke='#8a8a8a' stroke-width='7.5'/>
<line x1='250.7' y1='437.8' x2='255.7' y2='437.5' stroke='#818181' stroke-width='7.5'/>
<line x1='255.7' y1='437.5' x2='260.8' y2='437.9' stroke='#848484' stroke-width='7.5'/>
<line x1='260.8' y1='437.9' x2='265.8' y2='437.5' stroke='#aeaeae' stroke-width='7.5'/>
<line x1='265.8' y1='437.5' x2='270.9' y2='438.0' stroke='#adadad' stroke-width='7.5'/>
<line x1='270.9' y1='438.0' x2='275.9' y2='438.1' stroke='#a3a3a3' stroke-width='7.5'/>
<line x1='275.9' y1='438.1' x2='281.0' y2='438.1' stroke='#ababab' stroke-width='7.5'/>
<line x1='281.0' y1='438.1' x2='286.0' y2='438.2' stroke='#4f4f4f' stroke-width='7.5'/>
<line x1='286.0' y1='438.2' x2='291.1' y2='437.8' stroke='#505050' stroke-width='7.5'/>
<line x1='291.1' y1='437.8' x2='296.1' y2='437.8' stroke='#a0a0a0' stroke-width='7.5'/>
<line x1='296.1' y1='437.8' x2='301.2' y2='438.1' stroke='#9f9f9f' stroke-width='7.5'/>
<line x1='301.2' y1='438.1' x2='306.2' y2='438.0' stroke='#aeaeae' stroke-width='7.5'/>
<line x1='306.2' y1='438.0' x2='311.3' y2='437.8' stroke='#a0a0a0' stroke-width='7.5'/>
<line x1='311.3' y1='437.8' x2='316.4' y2='437.7' stroke='#aaaaaa' stroke-width='7.5'/>
<line x1='316.4' y1='437.7' x2='321.4' y2='437.6' stroke='#9c9c9c' stroke-width='7.5'/>
<line x1='321.4' y1='437.6' x2='326.5' y2='437.4' stroke='#a8a8a8' stroke-width='7.5'/>
<line x1='326.5' y1='437.4' x2='331.5' y2='438.1' stroke='#a4a4a4' stroke-width='7.5'/>
<line x1='331.5' y1='438.1' x2='336.6' y2='437.4' stroke='#acacac' stroke-width='7.5'/>
<line x1='336.6' y1='437.4' x2='341.6' y2='438.0' stroke='#7d7d7d' stroke-width='7.5'/>
<line x1='341.6' y1='438.0' x2='346.7' y2='437.8' stroke='#828282' stroke-width='7.5'/>
<line x1='346.7' y1='437.8' x2='351.7' y2='438.2' stroke='#878787' stroke-width='7.5'/>
<line x1='351.7' y1='438.2' x2='356.8' y2='438.0' stroke='#7f7f7f' stroke-width='7.5'/>
<line x1='356.8' y1='438.0' x2='361.8' y2='438.2' stroke='#7c7c7c' stroke-width='7.5'/>
<line x1='361.8' y1='438.2' x2='366.9' y2='437.4' stroke='#808080' stroke-width='7.5'/>
<line x1='366.9' y1='437.4' x2='371.9' y2='437.8' stroke='#7e7e7e' stroke-width='7.5'/>
<line x1='371.9' y1='437.8' x2='377.0' y2='437.8' stroke='#868686' stroke-width='7.5'/>
<line x1='377.0' y1='437.8' x2='382.1' y2='437.6' stroke='#7c7c7c' stroke-width='7.5'/>
<line x1='382.1' y1='437.6' x2='387.1' y2='437.8' stroke='#828282' stroke-width='7.5'/>
<line x1='387.1' y1='437.8' x2='392.2' y2='437.6' stroke='#9c9c9c' stroke-width='7.5'/>
<line x1='392.2' y1='437.6' x2='397.2' y2='437.8' stroke='#aeaeae' stroke-width='7.5'/>
<line x1='397.2' y1='437.8' x2='402.3' y2='437.3' stroke='#aaaaaa' stroke-width='7.5'/>
<line x1='402.3' y1='437.3' x2='407.3' y2='437.7' stroke='#545454' stroke-width='7.5'/>
<line x1='407.3' y1='437.7' x2='412.4' y2='437.7' stroke='#4e4e4e' stroke-width='7.5'/>
<line x1='412.4' y1='437.7' x2='417.4' y2='437.6' stroke='#7c7c7c' stroke-width='7.5'/>
<line x1='417.4' y1='437.6' x2='422.5' y2='437.7' stroke='#838383' stroke-width='7.5'/>
<line x1='422.5' y1='437.7' x2='427.5' y2='438.1' stroke='#7d7d7d' stroke-width='7.5'/>
<line x1='427.5' y1='438.1' x2='432.6' y2='438.0' stroke='#828282' stroke-width='7.5'/>
<line x1='432.6' y1='438.0' x2='437.6' y2='437.8' stroke='#7e7e7e' stroke-width='7.5'/>
<line x1='437.6' y1='437.8' x2='442.7' y2='437.9' stroke='#808080' stroke-width='7.5'/>
<line x1='442.7' y1='437.9' x2='447.8' y2='437.7' stroke='#8a8a8a' stroke-width='7.5'/>
<line x1='447.8' y1='437.7' x2='452.8' y2='437.5' stroke='#7b7b7b' stroke-width='7.5'/>
<line x1='452.8' y1='437.5' x2='457.9' y2='437.3' stroke='#898989' stroke-width='7.5'/>
<line x1='457.9' y1='437.3' x2='462.9' y2='437.6' stroke='#818181' stroke-width='7.5'/>
<line x1='462.9' y1='437.6' x2='468.0' y2='437.9' stroke='#8a8a8a' stroke-width='7.5'/>
<line x1='468.0' y1='437.9' x2='473.0' y2='438.2' stroke='#898989' stroke-width='7.5'/>
<line x1='473.0' y1='438.2' x2='478.1' y2='438.1' stroke='#7d7d7d' stroke-width='7.5'/>
<line x1='478.1' y1='438.1' x2='483.1' y2='437.8' stroke='#7a7a7a' stroke-width='7.5'/>
<line x1='483.1' y1='437.8' x2='488.2' y2='438.3' stroke='#4f4f4f' stroke-width='7.5'/>
<line x1='488.2' y1='438.3' x2='493.2' y2='437.7' stroke='#464646' stroke-width='7.5'/>
<line x1='493.2' y1='437.7' x2='498.3' y2='438.1' stroke='#adadad' stroke-width='7.5'/>
<line x1='498.3' y1='438.1' x2='503.3' y2='437.7' stroke='#9c9c9c' stroke-width='7.5'/>
<line x1='503.3' y1='437.7' x2='508.4' y2='438.0' stroke='#7b7b7b' stroke-width='7.5'/>
<line x1='508.4' y1='438.0' x2='513.5' y2='438.3' stroke='#9d9d9d' stroke-width='7.5'/>
<line x1='513.5' y1='438.3' x2='518.5' y2='437.6' stroke='#878787' stroke-width='7.5'/>
<line x1='518.5' y1='437.6' x2='523.6' y2='437.4' stroke='#898989' stroke-width='7.5'/>
<line x1='523.6' y1='437.4' x2='528.6' y2='437.9' stroke='#818181' stroke-width='7.5'/>
<line x1='528.6' y1='437.9' x2='533.7' y2='437.8' stroke='#8b8b8b' stroke-width='7.5'/>
<line x1='533.7' y1='437.8' x2='538.7' y2='437.6' stroke='#7e7e7e' stroke-width='7.5'/>
<line x1='538.7' y1='437.6' x2='543.8' y2='437.3' stroke='#848484' stroke-width='7.5'/>
<line x1='543.8' y1='437.3' x2='548.8' y2='437.7' stroke='#848484' stroke-width='7.5'/>
<line x1='548.8' y1='437.7' x2='553.9' y2='437.7' stroke='#838383' stroke-width='7.5'/>
<line x1='553.9' y1='437.7' x2='558.9' y2='437.7' stroke='#a4a4a4' stroke-width='7.5'/>
<line x1='558.9' y1='437.7' x2='564.0' y2='438.1' stroke='#818181' stroke-width='7.5'/>
<line x1='564.0' y1='438.1' x2='569.0' y2='437.9' stroke='#868686' stroke-width='7.5'/>
<line x1='569.0' y1='437.9' x2='574.1' y2='438.0' stroke='#505050' stroke-width='7.5'/>
<line x1='574.1' y1='438.0' x2='579.2' y2='438.2' stroke='#505050' stroke-width='7.5'/>
<line x1='579.2' y1='438.2' x2='584.2' y2='438.0' stroke='#898989' stroke-width='7.5'/>
<line x1='584.2' y1='438.0' x2='589.3' y2='437.8' stroke='#7b7b7b' stroke-width='7.5'/>
<line x1='589.3' y1='437.8' x2='594.3' y2='438.0' stroke='#828282' stroke-width='7.5'/>
<line x1='594.3' y1='438.0' x2='599.4' y2='437.8' stroke='#8b8b8b' stroke-width='7.5'/>
<line x1='190.2' y1='462.7' x2='195.2' y2='462.3' stroke='#4b4b4b' stroke-width='7.5'/>
<line x1='195.2' y1='462.3' x2='200.3' y2='462.8' stroke='#7d7d7d' stroke-width='7.5'/>
<line x1='200.3' y1='462.8' x2='205.3' y2='462.7' stroke='#848484' stroke-width='7.5'/>
<line x1='205.3' y1='462.7' x2='210.4' y2='462.4' stroke='#7d7d7d' stroke-width='7.5'/>
<line x1='210.4' y1='462.4' x2='215.4' y2='462.6' stroke='#878787' stroke-width='7.5'/>
<line x1='215.4' y1='462.6' x2='220.5' y2='462.9' stroke='#a7a7a7' stroke-width='7.5'/>
<line x1='220.5' y1='462.9' x2='225.5' y2='463.1' stroke='#a1a1a1' stroke-width='7.5'/>
<line x1='225.5' y1='463.1' x2='230.6' y2='462.2' stroke='#a6a6a6' stroke-width='7.5'/>
<line x1='230.6' y1='462.2' x2='235.6' y2='462.7' stroke='#adadad' stroke-width='7.5'/>
<line x1='235.6' y1='462.7' x2='240.7' y2='462.3' stroke='#9f9f9f' stroke-width='7.5'/>
<line x1='240.7' y1='462.3' x2='245.7' y2='463.0' stroke='#9b9b9b' stroke-width='7.5'/>
<line x1='245.7' y1='463.0' x2='250.8' y2='462.3' stroke='#adadad' stroke-width='7.5'/>
<line x1='250.8' y1='462.3' x2='255.8' y2='462.3' stroke='#a1a1a1' stroke-width='7.5'/>
<line x1='255.8' y1='462.3' x2='260.9' y2='462.6' stroke='#a8a8a8' stroke-width='7.5'/>
<line x1='260.9' y1='462.6' x2='265.9' y2='463.0' stroke='#aeaeae' stroke-width='7.5'/>
<line x1='265.9' y1='463.0' x2='271.0' y2='462.5' stroke='#aaaaaa' stroke-width='7.5'/>
<line x1='271.0' y1='462.5' x2='276.0' y2='462.4' stroke='#b0b0b0' stroke-width='7.5'/>
<line x1='276.0' y1='462.4' x2='281.1' y2='463.0' stroke='#505050' stroke-width='7.5'/>
<line x1='281.1' y1='463.0' x2='286.2' y2='463.0' stroke='#515151' stroke-width='7.5'/>
<line x1='286.2' y1='463.0' x2='291.2' y2='463.1' stroke='#878787' stroke-width='7.5'/>
<line x1='291.2' y1='463.1' x2='296.3' y2='462.5' stroke='#828282' stroke-width='7.5'/>
<line x1='296.3' y1='462.5' x2='301.3' y2='462.6' stroke='#898989' stroke-width='7.5'/>
<line x1='301.3' y1='462.6' x2='306.4' y2='462.5' stroke='#848484' stroke-width='7.5'/>
<line x1='306.4' y1='462.5' x2='311.4' y2='462.8' stroke='#828282' stroke-width='7.5'/>
<line x1='311.4' y1='462.8' x2='316.5' y2='462.6' stroke='#aaaaaa' stroke-width='7.5'/>
<line x1='316.5' y1='462.6' x2='321.5' y2='462.6' stroke='#a1a1a1' stroke-width='7.5'/>
<line x1='321.5' y1='462.6' x2='326.6' y2='463.0' stroke='#ababab' stroke-width='7.5'/>
<line x1='326.6' y1='463.0' x2='331.6' y2='463.2' stroke='#a7a7a7' stroke-width='7.5'/>
<line x1='331.6' y1='463.2' x2='336.7' y2='462.8' stroke='#a7a7a7' stroke-width='7.5'/>
<line x1='336.7' y1='462.8' x2='341.7' y2='462.3' stroke='#a7a7a7' stroke-width='7.5'/>
<line x1='341.7' y1='462.3' x2='346.8' y2='462.9' stroke='#b0b0b0' stroke-width='7.5'/>
<line x1='346.8' y1='462.9' x2='351.8' y2='462.7' stroke='#a9a9a9' stroke-width='7.5'/>
<line x1='351.8' y1='462.7' x2='356.9' y2='463.2' stroke='#a1a1a1' stroke-width='7.5'/>
<line x1='356.9' y1='463.2' x2='361.9' y2='462.9' stroke='#a8a8a8' stroke-width='7.5'/>
<line x1='361.9' y1='462.9' x2='367.0' y2='463.1' stroke='#b0b0b0' stroke-width='7.5'/>
<line x1='367.0' y1='463.1' x2='372.0' y2='462.9' stroke='#8b8b8b' stroke-width='7.5'/>
<line x1='372.0' y1='462.9' x2='377.1' y2='462.8' stroke='#848484' stroke-width='7.5'/>
<line x1='377.1' y1='462.8' x2='382.1' y2='463.1' stroke='#818181' stroke-width='7.5'/>
<line x1='382.1' y1='463.1' x2='387.2' y2='463.1' stroke='#898989' stroke-width='7.5'/>
<line x1='387.2' y1='463.1' x2='392.2' y2='462.5' stroke='#898989' stroke-width='7.5'/>
<line x1='392.2' y1='462.5' x2='397.3' y2='462.4' stroke='#898989' stroke-width='7.5'/>
<line x1='397.3' y1='462.4' x2='402.3' y2='462.6' stroke='#828282' stroke-width='7.5'/>
<line x1='402.3' y1='462.6' x2='407.4' y2='462.7' stroke='#808080' stroke-width='7.5'/>
<line x1='407.4' y1='462.7' x2='412.4' y2='462.3' stroke='#4c4c4c' stroke-width='7.5'/>
<line x1='412.4' y1='462.3' x2='417.5' y2='462.6' stroke='#4a4a4a' stroke-width='7.5'/>
<line x1='417.5' y1='462.6' x2='422.6' y2='462.8' stroke='#a4a4a4' stroke-width='7.5'/>
<line x1='422.6' y1='462.8' x2='427.6' y2='462.3' stroke='#a1a1a1' stroke-width='7.5'/>
<line x1='427.6' y1='462.3' x2='432.7' y2='463.0' stroke='#a8a8a8' stroke-width='7.5'/>
<line x1='432.7' y1='463.0' x2='437.7' y2='462.9' stroke='#7e7e7e' stroke-width='7.5'/>
<line x1='437.7' y1='462.9' x2='442.8' y2='462.5' stroke='#878787' stroke-width='7.5'/>
<line x1='442.8' y1='462.5' x2='447.8' y2='462.5' stroke='#818181' stroke-width='7.5'/>
<line x1='447.8' y1='462.5' x2='452.9' y2='462.6' stroke='#828282' stroke-width='7.5'/>
<line x1='452.9' y1='462.6' x2='457.9' y2='462.6' stroke='#828282' stroke-width='7.5'/>
<line x1='457.9' y1='462.6' x2='463.0' y2='463.0' stroke='#868686' stroke-width='7.5'/>
<line x1='463.0' y1='463.0' x2='468.0' y2='462.7' stroke='#b0b0b0' stroke-width='7.5'/>
<line x1='468.0' y1='462.7' x2='473.1' y2='462.8' stroke='#a0a0a0' stroke-width='7.5'/>
<line x1='473.1' y1='462.8' x2='478.1' y2='462.4' stroke='#b0b0b0' stroke-width='7.5'/>
<line x1='478.1' y1='462.4' x2='483.2' y2='463.1' stroke='#ababab' stroke-width='7.5'/>
<line x1='483.2' y1='463.1' x2='488.2' y2='462.6' stroke='#9d9d9d' stroke-width='7.5'/>
<line x1='488.2' y1='462.6' x2='493.3' y2='462.6' stroke='#b1b1b1' stroke-width='7.5'/>
<line x1='493.3' y1='462.6' x2='498.3' y2='462.3' stroke='#a7a7a7' stroke-width='7.5'/>
<line x1='498.3' y1='462.3' x2='503.4' y2='463.2' stroke='#535353' stroke-width='7.5'/>
<line x1='503.4' y1='463.2' x2='508.4' y2='462.7' stroke='#545454' stroke-width='7.5'/>
<line x1='508.4' y1='462.7' x2='513.5' y2='463.1' stroke='#868686' stroke-width='7.5'/>
<line x1='513.5' y1='463.1' x2='518.5' y2='463.2' stroke='#a1a1a1' stroke-width='7.5'/>
<line x1='518.5' y1='463.2' x2='523.6' y2='463.2' stroke='#acacac' stroke-width='7.5'/>
<line x1='523.6' y1='463.2' x2='528.6' y2='463.0' stroke='#acacac' stroke-width='7.5'/>
<line x1='528.6' y1='463.0' x2='533.7' y2='463.2' stroke='#9d9d9d' stroke-width='7.5'/>
<line x1='533.7' y1='463.2' x2='538.7' y2='463.1' stroke='#a9a9a9' stroke-width='7.5'/>
<line x1='538.7' y1='463.1' x2='543.8' y2='463.0' stroke='#8a8a8a' stroke-width='7.5'/>
<line x1='543.8' y1='463.0' x2='548.8' y2='462.4' stroke='#7c7c7c' stroke-width='7.5'/>
<line x1='548.8' y1='462.4' x2='553.9' y2='462.7' stroke='#8a8a8a' stroke-width='7.5'/>
<line x1='553.9' y1='462.7' x2='559.0' y2='462.8' stroke='#818181' stroke-width='7.5'/>
<line x1='559.0' y1='462.8' x2='564.0' y2='463.2' stroke='#545454' stroke-width='7.5'/>
<line x1='564.0' y1='463.2' x2='569.1' y2='463.0' stroke='#494949' stroke-width='7.5'/>
<line x1='569.1' y1='463.0' x2='574.1' y2='462.9' stroke='#7e7e7e' stroke-width='7.5'/>
<line x1='574.1' y1='462.9' x2='579.2' y2='463.0' stroke='#808080' stroke-width='7.5'/>
<line x1='579.2' y1='463.0' x2='584.2' y2='462.6' stroke='#7a7a7a' stroke-width='7.5'/>
<line x1='584.2' y1='462.6' x2='589.3' y2='463.2' stroke='#858585' stroke-width='7.5'/>
<line x1='589.3' y1='463.2' x2='594.3' y2='462.9' stroke='#8b8b8b' stroke-width='7.5'/>
<line x1='594.3' y1='462.9' x2='599.4' y2='462.7' stroke='#828282' stroke-width='7.5'/>
<line x1='190.0' y1='471.6' x2='193.7' y2='475.0' stroke='#494949' stroke-width='6.5'/>
<line x1='193.7' y1='475.0' x2='197.5' y2='478.3' stroke='#818181' stroke-width='6.5'/>
<line x1='197.5' y1='478.3' x2='201.7' y2='481.0' stroke='#a9a9a9' stroke-width='6.5'/>
<line x1='201.7' y1='481.0' x2='205.5' y2='484.3' stroke='#a7a7a7' stroke-width='6.5'/>
<line x1='205.5' y1='484.3' x2='209.1' y2='487.8' stroke='#ababab' stroke-width='6.5'/>
<line x1='209.1' y1='487.8' x2='213.1' y2='490.8' stroke='#9c9c9c' stroke-width='6.5'/>
<line x1='213.1' y1='490.8' x2='217.2' y2='493.8' stroke='#aaaaaa' stroke-width='6.5'/>
<line x1='217.2' y1='493.8' x2='221.0' y2='497.0' stroke='#7c7c7c' stroke-width='6.5'/>
<line x1='221.0' y1='497.0' x2='224.6' y2='500.5' stroke='#7e7e7e' stroke-width='6.5'/>
<line x1='224.6' y1='500.5' x2='228.4' y2='503.7' stroke='#898989' stroke-width='6.5'/>
<line x1='228.4' y1='503.7' x2='232.0' y2='507.2' stroke='#898989' stroke-width='6.5'/>
<line x1='232.0' y1='507.2' x2='236.1' y2='510.1' stroke='#818181' stroke-width='6.5'/>
<line x1='236.1' y1='510.1' x2='239.9' y2='513.4' stroke='#7c7c7c' stroke-width='6.5'/>
<line x1='239.9' y1='513.4' x2='244.1' y2='516.2' stroke='#7f7f7f' stroke-width='6.5'/>
<line x1='244.1' y1='516.2' x2='247.7' y2='519.6' stroke='#888888' stroke-width='6.5'/>
<line x1='247.7' y1='519.6' x2='251.7' y2='522.7' stroke='#7a7a7a' stroke-width='6.5'/>
<line x1='251.7' y1='522.7' x2='255.3' y2='526.3' stroke='#8a8a8a' stroke-width='6.5'/>
<line x1='255.3' y1='526.3' x2='259.4' y2='529.1' stroke='#818181' stroke-width='6.5'/>
<line x1='259.4' y1='529.1' x2='263.3' y2='532.3' stroke='#898989' stroke-width='6.5'/>
<line x1='263.3' y1='532.3' x2='267.0' y2='535.6' stroke='#878787' stroke-width='6.5'/>
<line x1='267.0' y1='535.6' x2='270.8' y2='538.9' stroke='#818181' stroke-width='6.5'/>
<line x1='270.8' y1='538.9' x2='274.7' y2='542.0' stroke='#818181' stroke-width='6.5'/>
<line x1='274.7' y1='542.0' x2='278.4' y2='545.4' stroke='#7b7b7b' stroke-width='6.5'/>
<line x1='278.4' y1='545.4' x2='282.5' y2='548.3' stroke='#7b7b7b' stroke-width='6.5'/>
<line x1='282.5' y1='548.3' x2='285.9' y2='552.0' stroke='#454545' stroke-width='6.5'/>
<line x1='285.9' y1='552.0' x2='289.9' y2='555.1' stroke='#454545' stroke-width='6.5'/>
<line x1='289.9' y1='555.1' x2='293.8' y2='558.2' stroke='#a3a3a3' stroke-width='6.5'/>
<line x1='293.8' y1='558.2' x2='298.0' y2='561.0' stroke='#8a8a8a' stroke-width='6.5'/>
<line x1='298.0' y1='561.0' x2='301.6' y2='564.4' stroke='#888888' stroke-width='6.5'/>
<line x1='301.6' y1='564.4' x2='305.3' y2='567.9' stroke='#7e7e7e' stroke-width='6.5'/>
<line x1='305.3' y1='567.9' x2='309.1' y2='571.1' stroke='#7e7e7e' stroke-width='6.5'/>
<line x1='309.1' y1='571.1' x2='312.9' y2='574.4' stroke='#808080' stroke-width='6.5'/>
<line x1='312.9' y1='574.4' x2='316.7' y2='577.7' stroke='#8a8a8a' stroke-width='6.5'/>
<line x1='316.7' y1='577.7' x2='320.9' y2='580.5' stroke='#898989' stroke-width='6.5'/>
<line x1='320.9' y1='580.5' x2='324.6' y2='583.8' stroke='#858585' stroke-width='6.5'/>
<line x1='324.6' y1='583.8' x2='328.6' y2='586.9' stroke='#878787' stroke-width='6.5'/>
<line x1='328.6' y1='586.9' x2='332.5' y2='589.9' stroke='#a3a3a3' stroke-width='6.5'/>
<line x1='332.5' y1='589.9' x2='336.4' y2='593.2' stroke='#828282' stroke-width='6.5'/>
<line x1='336.4' y1='593.2' x2='340.1' y2='596.5' stroke='#858585' stroke-width='6.5'/>
<line x1='340.1' y1='596.5' x2='344.1' y2='599.5' stroke='#7b7b7b' stroke-width='6.5'/>
<line x1='344.1' y1='599.5' x2='347.7' y2='603.1' stroke='#898989' stroke-width='6.5'/>
<line x1='347.7' y1='603.1' x2='351.4' y2='606.4' stroke='#828282' stroke-width='6.5'/>
<line x1='351.4' y1='606.4' x2='355.3' y2='609.5' stroke='#868686' stroke-width='6.5'/>
<line x1='355.3' y1='609.5' x2='359.1' y2='612.8' stroke='#7a7a7a' stroke-width='6.5'/>
<line x1='359.1' y1='612.8' x2='363.2' y2='615.7' stroke='#818181' stroke-width='6.5'/>
<line x1='363.2' y1='615.7' x2='367.1' y2='618.9' stroke='#484848' stroke-width='6.5'/>
<line x1='367.1' y1='618.9' x2='370.7' y2='622.3' stroke='#505050' stroke-width='6.5'/>
<line x1='370.7' y1='622.3' x2='374.4' y2='625.8' stroke='#a9a9a9' stroke-width='6.5'/>
<line x1='374.4' y1='625.8' x2='378.5' y2='628.6' stroke='#a5a5a5' stroke-width='6.5'/>
<line x1='378.5' y1='628.6' x2='382.6' y2='631.5' stroke='#a6a6a6' stroke-width='6.5'/>
<line x1='382.6' y1='631.5' x2='386.4' y2='634.8' stroke='#ababab' stroke-width='6.5'/>
<line x1='386.4' y1='634.8' x2='390.1' y2='638.2' stroke='#a7a7a7' stroke-width='6.5'/>
<line x1='390.1' y1='638.2' x2='393.8' y2='641.6' stroke='#afafaf' stroke-width='6.5'/>
<line x1='393.8' y1='641.6' x2='397.9' y2='644.4' stroke='#9e9e9e' stroke-width='6.5'/>
<line x1='397.9' y1='644.4' x2='401.7' y2='647.7' stroke='#9d9d9d' stroke-width='6.5'/>
<line x1='401.7' y1='647.7' x2='405.2' y2='651.3' stroke='#9f9f9f' stroke-width='6.5'/>
<line x1='405.2' y1='651.3' x2='408.9' y2='654.7' stroke='#a9a9a9' stroke-width='6.5'/>
<line x1='408.9' y1='654.7' x2='413.2' y2='657.4' stroke='#a1a1a1' stroke-width='6.5'/>
<line x1='413.2' y1='657.4' x2='416.8' y2='660.8' stroke='#888888' stroke-width='6.5'/>
<line x1='416.8' y1='660.8' x2='420.7' y2='664.0' stroke='#7a7a7a' stroke-width='6.5'/>
<line x1='420.7' y1='664.0' x2='424.9' y2='666.8' stroke='#858585' stroke-width='6.5'/>
<line x1='424.9' y1='666.8' x2='428.5' y2='670.3' stroke='#8a8a8a' stroke-width='6.5'/>
<line x1='428.5' y1='670.3' x2='432.5' y2='673.3' stroke='#818181' stroke-width='6.5'/>
<line x1='432.5' y1='673.3' x2='436.3' y2='676.6' stroke='#8b8b8b' stroke-width='6.5'/>
<line x1='436.3' y1='676.6' x2='439.8' y2='680.2' stroke='#858585' stroke-width='6.5'/>
<line x1='439.8' y1='680.2' x2='443.7' y2='683.4' stroke='#7e7e7e' stroke-width='6.5'/>
<line x1='443.7' y1='683.4' x2='448.0' y2='686.1' stroke='#535353' stroke-width='6.5'/>
<line x1='448.0' y1='686.1' x2='451.8' y2='689.3' stroke='#545454' stroke-width='6.5'/>
<line x1='451.8' y1='689.3' x2='455.2' y2='693.0' stroke='#818181' stroke-width='6.5'/>
<line x1='455.2' y1='693.0' x2='459.5' y2='695.7' stroke='#8a8a8a' stroke-width='6.5'/>
<line x1='459.5' y1='695.7' x2='463.2' y2='699.1' stroke='#868686' stroke-width='6.5'/>
<line x1='463.2' y1='699.1' x2='467.0' y2='702.3' stroke='#858585' stroke-width='6.5'/>
<line x1='467.0' y1='702.3' x2='471.0' y2='705.3' stroke='#7e7e7e' stroke-width='6.5'/>
<line x1='471.0' y1='705.3' x2='474.9' y2='708.5' stroke='#7c7c7c' stroke-width='6.5'/>
<line x1='474.9' y1='708.5' x2='478.7' y2='711.8' stroke='#818181' stroke-width='6.5'/>
<line x1='478.7' y1='711.8' x2='482.3' y2='715.2' stroke='#858585' stroke-width='6.5'/>
<line x1='482.3' y1='715.2' x2='485.8' y2='718.8' stroke='#8b8b8b' stroke-width='6.5'/>
<line x1='485.8' y1='718.8' x2='489.9' y2='721.8' stroke='#b0b0b0' stroke-width='6.5'/>
<line x1='489.9' y1='721.8' x2='494.0' y2='724.7' stroke='#a1a1a1' stroke-width='6.5'/>
<line x1='494.0' y1='724.7' x2='497.5' y2='728.2' stroke='#a8a8a8' stroke-width='6.5'/>
<line x1='497.5' y1='728.2' x2='501.7' y2='731.1' stroke='#aaaaaa' stroke-width='6.5'/>
<line x1='501.7' y1='731.1' x2='505.3' y2='734.5' stroke='#a7a7a7' stroke-width='6.5'/>
<line x1='505.3' y1='734.5' x2='509.3' y2='737.6' stroke='#a6a6a6' stroke-width='6.5'/>
<line x1='509.3' y1='737.6' x2='512.8' y2='741.3' stroke='#9f9f9f' stroke-width='6.5'/>
<line x1='512.8' y1='741.3' x2='517.0' y2='744.0' stroke='#a3a3a3' stroke-width='6.5'/>
<line x1='517.0' y1='744.0' x2='520.5' y2='747.6' stroke='#808080' stroke-width='6.5'/>
<line x1='520.5' y1='747.6' x2='524.5' y2='750.7' stroke='#898989' stroke-width='6.5'/>
<line x1='524.5' y1='750.7' x2='528.2' y2='754.0' stroke='#858585' stroke-width='6.5'/>
<line x1='528.2' y1='754.0' x2='532.2' y2='757.0' stroke='#808080' stroke-width='6.5'/>
<line x1='532.2' y1='757.0' x2='535.9' y2='760.4' stroke='#494949' stroke-width='6.5'/>
<line x1='535.9' y1='760.4' x2='540.0' y2='763.3' stroke='#4a4a4a' stroke-width='6.5'/>
<line x1='540.0' y1='763.3' x2='543.7' y2='766.7' stroke='#a0a0a0' stroke-width='6.5'/>
<line x1='543.7' y1='766.7' x2='547.6' y2='769.9' stroke='#838383' stroke-width='6.5'/>
<line x1='547.6' y1='769.9' x2='551.5' y2='773.0' stroke='#aeaeae' stroke-width='6.5'/>
<line x1='551.5' y1='773.0' x2='555.3' y2='776.2' stroke='#a7a7a7' stroke-width='6.5'/>
<line x1='555.3' y1='776.2' x2='559.2' y2='779.4' stroke='#9f9f9f' stroke-width='6.5'/>
<line x1='559.2' y1='779.4' x2='563.1' y2='782.5' stroke='#9d9d9d' stroke-width='6.5'/>
<line x1='563.1' y1='782.5' x2='566.6' y2='786.1' stroke='#9c9c9c' stroke-width='6.5'/>
<line x1='566.6' y1='786.1' x2='570.6' y2='789.1' stroke='#a3a3a3' stroke-width='6.5'/>
<line x1='570.6' y1='789.1' x2='574.5' y2='792.3' stroke='#a8a8a8' stroke-width='6.5'/>
<line x1='574.5' y1='792.3' x2='578.7' y2='795.1' stroke='#7b7b7b' stroke-width='6.5'/>
<line x1='578.7' y1='795.1' x2='582.3' y2='798.6' stroke='#a1a1a1' stroke-width='6.5'/>
<line x1='582.3' y1='798.6' x2='586.3' y2='801.6' stroke='#b0b0b0' stroke-width='6.5'/>
<line x1='586.3' y1='801.6' x2='590.1' y2='804.8' stroke='#adadad' stroke-width='6.5'/>
<line x1='590.1' y1='804.8' x2='593.9' y2='808.2' stroke='#808080' stroke-width='6.5'/>
<line x1='593.9' y1='808.2' x2='597.6' y2='811.5' stroke='#7c7c7c' stroke-width='6.5'/>
<line x1='597.6' y1='811.5' x2='601.5' y2='814.7' stroke='#7e7e7e' stroke-width='6.5'/>
<line x1='177.7' y1='481.0' x2='181.5' y2='484.3' stroke='#545454' stroke-width='6.5'/>
<line x1='181.5' y1='484.3' x2='185.4' y2='487.4' stroke='#7a7a7a' stroke-width='6.5'/>
<line x1='185.4' y1='487.4' x2='188.9' y2='491.1' stroke='#808080' stroke-width='6.5'/>
<line x1='188.9' y1='491.1' x2='192.8' y2='494.2' stroke='#838383' stroke-width='6.5'/>
<line x1='192.8' y1='494.2' x2='196.6' y2='497.5' stroke='#848484' stroke-width='6.5'/>
<line x1='196.6' y1='497.5' x2='200.3' y2='500.9' stroke='#858585' stroke-width='6.5'/>
<line x1='200.3' y1='500.9' x2='204.4' y2='503.8' stroke='#828282' stroke-width='6.5'/>
<line x1='204.4' y1='503.8' x2='208.3' y2='506.9' stroke='#888888' stroke-width='6.5'/>
<line x1='208.3' y1='506.9' x2='211.6' y2='510.8' stroke='#a2a2a2' stroke-width='6.5'/>
<line x1='211.6' y1='510.8' x2='215.7' y2='513.7' stroke='#7d7d7d' stroke-width='6.5'/>
<line x1='215.7' y1='513.7' x2='219.2' y2='517.3' stroke='#a6a6a6' stroke-width='6.5'/>
<line x1='219.2' y1='517.3' x2='222.9' y2='520.7' stroke='#b1b1b1' stroke-width='6.5'/>
<line x1='222.9' y1='520.7' x2='226.9' y2='523.7' stroke='#a8a8a8' stroke-width='6.5'/>
<line x1='226.9' y1='523.7' x2='231.0' y2='526.6' stroke='#a9a9a9' stroke-width='6.5'/>
<line x1='231.0' y1='526.6' x2='234.3' y2='530.5' stroke='#a1a1a1' stroke-width='6.5'/>
<line x1='234.3' y1='530.5' x2='238.2' y2='533.6' stroke='#a7a7a7' stroke-width='6.5'/>
<line x1='238.2' y1='533.6' x2='242.3' y2='536.6' stroke='#a8a8a8' stroke-width='6.5'/>
<line x1='242.3' y1='536.6' x2='246.1' y2='539.8' stroke='#afafaf' stroke-width='6.5'/>
<line x1='246.1' y1='539.8' x2='249.7' y2='543.3' stroke='#a1a1a1' stroke-width='6.5'/>
<line x1='249.7' y1='543.3' x2='253.7' y2='546.3' stroke='#a1a1a1' stroke-width='6.5'/>
<line x1='253.7' y1='546.3' x2='257.0' y2='550.2' stroke='#a5a5a5' stroke-width='6.5'/>
<line x1='257.0' y1='550.2' x2='260.9' y2='553.3' stroke='#a1a1a1' stroke-width='6.5'/>
<line x1='260.9' y1='553.3' x2='264.6' y2='556.7' stroke='#b0b0b0' stroke-width='6.5'/>
<line x1='264.6' y1='556.7' x2='268.7' y2='559.6' stroke='#9c9c9c' stroke-width='6.5'/>
<line x1='268.7' y1='559.6' x2='272.1' y2='563.3' stroke='#afafaf' stroke-width='6.5'/>
<line x1='272.1' y1='563.3' x2='276.4' y2='566.0' stroke='#9e9e9e' stroke-width='6.5'/>
<line x1='276.4' y1='566.0' x2='279.8' y2='569.7' stroke='#a3a3a3' stroke-width='6.5'/>
<line x1='279.8' y1='569.7' x2='283.9' y2='572.6' stroke='#9b9b9b' stroke-width='6.5'/>
<line x1='283.9' y1='572.6' x2='287.9' y2='575.7' stroke='#ababab' stroke-width='6.5'/>
<line x1='287.9' y1='575.7' x2='291.6' y2='579.1' stroke='#9c9c9c' stroke-width='6.5'/>
<line x1='291.6' y1='579.1' x2='295.3' y2='582.4' stroke='#a9a9a9' stroke-width='6.5'/>
<line x1='295.3' y1='582.4' x2='298.7' y2='586.1' stroke='#a4a4a4' stroke-width='6.5'/>
<line x1='298.7' y1='586.1' x2='302.8' y2='589.1' stroke='#9f9f9f' stroke-width='6.5'/>
<line x1='302.8' y1='589.1' x2='306.5' y2='592.5' stroke='#a8a8a8' stroke-width='6.5'/>
<line x1='306.5' y1='592.5' x2='310.2' y2='595.9' stroke='#9f9f9f' stroke-width='6.5'/>
<line x1='310.2' y1='595.9' x2='314.2' y2='598.9' stroke='#808080' stroke-width='6.5'/>
<line x1='314.2' y1='598.9' x2='317.8' y2='602.5' stroke='#505050' stroke-width='6.5'/>
<line x1='317.8' y1='602.5' x2='321.5' y2='605.8' stroke='#484848' stroke-width='6.5'/>
<line x1='321.5' y1='605.8' x2='325.2' y2='609.2' stroke='#9c9c9c' stroke-width='6.5'/>
<line x1='325.2' y1='609.2' x2='329.2' y2='612.2' stroke='#7a7a7a' stroke-width='6.5'/>
<line x1='329.2' y1='612.2' x2='332.8' y2='615.7' stroke='#7b7b7b' stroke-width='6.5'/>
<line x1='332.8' y1='615.7' x2='336.5' y2='619.1' stroke='#7b7b7b' stroke-width='6.5'/>
<line x1='336.5' y1='619.1' x2='340.4' y2='622.2' stroke='#7e7e7e' stroke-width='6.5'/>
<line x1='340.4' y1='622.2' x2='344.4' y2='625.2' stroke='#a3a3a3' stroke-width='6.5'/>
<line x1='344.4' y1='625.2' x2='348.3' y2='628.4' stroke='#a9a9a9' stroke-width='6.5'/>
<line x1='348.3' y1='628.4' x2='352.2' y2='631.6' stroke='#aaaaaa' stroke-width='6.5'/>
<line x1='352.2' y1='631.6' x2='355.5' y2='635.4' stroke='#818181' stroke-width='6.5'/>
<line x1='355.5' y1='635.4' x2='359.8' y2='638.1' stroke='#7a7a7a' stroke-width='6.5'/>
<line x1='359.8' y1='638.1' x2='363.3' y2='641.7' stroke='#a9a9a9' stroke-width='6.5'/>
<line x1='363.3' y1='641.7' x2='367.1' y2='644.9' stroke='#b0b0b0' stroke-width='6.5'/>
<line x1='367.1' y1='644.9' x2='371.2' y2='647.9' stroke='#aaaaaa' stroke-width='6.5'/>
<line x1='371.2' y1='647.9' x2='374.9' y2='651.3' stroke='#9c9c9c' stroke-width='6.5'/>
<line x1='374.9' y1='651.3' x2='378.2' y2='655.1' stroke='#aaaaaa' stroke-width='6.5'/>
<line x1='378.2' y1='655.1' x2='382.2' y2='658.1' stroke='#b0b0b0' stroke-width='6.5'/>
<line x1='382.2' y1='658.1' x2='385.8' y2='661.7' stroke='#a7a7a7' stroke-width='6.5'/>
<line x1='385.8' y1='661.7' x2='389.6' y2='665.0' stroke='#a6a6a6' stroke-width='6.5'/>
<line x1='389.6' y1='665.0' x2='393.9' y2='667.6' stroke='#aaaaaa' stroke-width='6.5'/>
<line x1='393.9' y1='667.6' x2='397.3' y2='671.4' stroke='#aeaeae' stroke-width='6.5'/>
<line x1='397.3' y1='671.4' x2='401.5' y2='674.2' stroke='#a5a5a5' stroke-width='6.5'/>
<line x1='401.5' y1='674.2' x2='405.0' y2='677.7' stroke='#aaaaaa' stroke-width='6.5'/>
<line x1='405.0' y1='677.7' x2='408.8' y2='681.0' stroke='#a7a7a7' stroke-width='6.5'/>
<line x1='408.8' y1='681.0' x2='412.2' y2='684.7' stroke='#a8a8a8' stroke-width='6.5'/>
<line x1='412.2' y1='684.7' x2='416.3' y2='687.7' stroke='#a8a8a8' stroke-width='6.5'/>
<line x1='416.3' y1='687.7' x2='420.3' y2='690.7' stroke='#aeaeae' stroke-width='6.5'/>
<line x1='420.3' y1='690.7' x2='423.9' y2='694.2' stroke='#aaaaaa' stroke-width='6.5'/>
<line x1='423.9' y1='694.2' x2='427.7' y2='697.5' stroke='#aaaaaa' stroke-width='6.5'/>
<line x1='427.7' y1='697.5' x2='431.7' y2='700.5' stroke='#a3a3a3' stroke-width='6.5'/>
<line x1='431.7' y1='700.5' x2='435.4' y2='703.9' stroke='#a9a9a9' stroke-width='6.5'/>
<line x1='435.4' y1='703.9' x2='438.8' y2='707.6' stroke='#acacac' stroke-width='6.5'/>
<line x1='438.8' y1='707.6' x2='442.5' y2='710.9' stroke='#878787' stroke-width='6.5'/>
<line x1='442.5' y1='710.9' x2='446.5' y2='714.1' stroke='#7a7a7a' stroke-width='6.5'/>
<line x1='446.5' y1='714.1' x2='450.7' y2='716.8' stroke='#848484' stroke-width='6.5'/>
<line x1='450.7' y1='716.8' x2='453.9' y2='720.7' stroke='#898989' stroke-width='6.5'/>
<line x1='453.9' y1='720.7' x2='458.0' y2='723.7' stroke='#9d9d9d' stroke-width='6.5'/>
<line x1='458.0' y1='723.7' x2='461.6' y2='727.2' stroke='#a9a9a9' stroke-width='6.5'/>
<line x1='461.6' y1='727.2' x2='465.8' y2='730.0' stroke='#8b8b8b' stroke-width='6.5'/>
<line x1='465.8' y1='730.0' x2='469.6' y2='733.3' stroke='#7e7e7e' stroke-width='6.5'/>
<line x1='469.6' y1='733.3' x2='472.9' y2='737.1' stroke='#505050' stroke-width='6.5'/>
<line x1='472.9' y1='737.1' x2='477.1' y2='739.9' stroke='#484848' stroke-width='6.5'/>
<line x1='477.1' y1='739.9' x2='481.0' y2='743.0' stroke='#808080' stroke-width='6.5'/>
<line x1='481.0' y1='743.0' x2='484.5' y2='746.7' stroke='#a6a6a6' stroke-width='6.5'/>
<line x1='484.5' y1='746.7' x2='488.0' y2='750.3' stroke='#aeaeae' stroke-width='6.5'/>
<line x1='488.0' y1='750.3' x2='491.9' y2='753.5' stroke='#afafaf' stroke-width='6.5'/>
<line x1='491.9' y1='753.5' x2='495.9' y2='756.4' stroke='#a8a8a8' stroke-width='6.5'/>
<line x1='495.9' y1='756.4' x2='499.3' y2='760.1' stroke='#a0a0a0' stroke-width='6.5'/>
<line x1='499.3' y1='760.1' x2='503.3' y2='763.3' stroke='#9f9f9f' stroke-width='6.5'/>
<line x1='503.3' y1='763.3' x2='507.0' y2='766.6' stroke='#878787' stroke-width='6.5'/>
<line x1='507.0' y1='766.6' x2='510.9' y2='769.7' stroke='#7a7a7a' stroke-width='6.5'/>
<line x1='510.9' y1='769.7' x2='514.9' y2='772.8' stroke='#7f7f7f' stroke-width='6.5'/>
<line x1='514.9' y1='772.8' x2='518.3' y2='776.5' stroke='#868686' stroke-width='6.5'/>
<line x1='518.3' y1='776.5' x2='522.4' y2='779.4' stroke='#a7a7a7' stroke-width='6.5'/>
<line x1='522.4' y1='779.4' x2='525.9' y2='783.1' stroke='#a6a6a6' stroke-width='6.5'/>
<line x1='525.9' y1='783.1' x2='529.9' y2='786.1' stroke='#a8a8a8' stroke-width='6.5'/>
<line x1='529.9' y1='786.1' x2='533.5' y2='789.6' stroke='#a1a1a1' stroke-width='6.5'/>
<line x1='533.5' y1='789.6' x2='537.6' y2='792.6' stroke='#a1a1a1' stroke-width='6.5'/>
<line x1='537.6' y1='792.6' x2='541.4' y2='795.8' stroke='#9d9d9d' stroke-width='6.5'/>
<line x1='541.4' y1='795.8' x2='545.1' y2='799.2' stroke='#a6a6a6' stroke-width='6.5'/>
<line x1='545.1' y1='799.2' x2='549.0' y2='802.3' stroke='#ababab' stroke-width='6.5'/>
<line x1='549.0' y1='802.3' x2='552.9' y2='805.4' stroke='#b0b0b0' stroke-width='6.5'/>
<line x1='552.9' y1='805.4' x2='556.4' y2='809.0' stroke='#a0a0a0' stroke-width='6.5'/>
<line x1='556.4' y1='809.0' x2='560.0' y2='812.5' stroke='#838383' stroke-width='6.5'/>
<line x1='560.0' y1='812.5' x2='564.2' y2='815.4' stroke='#8b8b8b' stroke-width='6.5'/>
<line x1='564.2' y1='815.4' x2='567.6' y2='819.1' stroke='#9c9c9c' stroke-width='6.5'/>
<line x1='567.6' y1='819.1' x2='571.4' y2='822.3' stroke='#adadad' stroke-width='6.5'/>
<line x1='571.4' y1='822.3' x2='575.2' y2='825.6' stroke='#a7a7a7' stroke-width='6.5'/>
<line x1='575.2' y1='825.6' x2='579.3' y2='828.6' stroke='#9b9b9b' stroke-width='6.5'/>
<line x1='579.3' y1='828.6' x2='583.0' y2='831.9' stroke='#9f9f9f' stroke-width='6.5'/>
</g>
</g></g>
<rect x='153.5' y='76' width='440.0' height='748.5' fill='none' stroke='#2a2a2a' stroke-width='2'/>
<path d='M153.5,824.5h18M593.5,824.5h-18M153.5,699.8h18M593.5,699.8h-18M153.5,575.0h18M593.5,575.0h-18M153.5,450.2h18M593.5,450.2h-18M153.5,325.5h18M593.5,325.5h-18M153.5,200.8h18M593.5,200.8h-18M153.5,76.0h18M593.5,76.0h-18M153.5,799.6h9M593.5,799.6h-9M153.5,774.6h9M593.5,774.6h-9M153.5,749.6h9M593.5,749.6h-9M153.5,724.7h9M593.5,724.7h-9M153.5,674.8h9M593.5,674.8h-9M153.5,649.9h9M593.5,649.9h-9M153.5,624.9h9M593.5,624.9h-9M153.5,600.0h9M593.5,600.0h-9M153.5,550.0h9M593.5,550.0h-9M153.5,525.1h9M593.5,525.1h-9M153.5,500.2h9M593.5,500.2h-9M153.5,475.2h9M593.5,475.2h-9M153.5,425.3h9M593.5,425.3h-9M153.5,400.4h9M593.5,400.4h-9M153.5,375.4h9M593.5,375.4h-9M153.5,350.4h9M593.5,350.4h-9M153.5,300.6h9M593.5,300.6h-9M153.5,275.6h9M593.5,275.6h-9M153.5,250.7h9M593.5,250.7h-9M153.5,225.7h9M593.5,225.7h-9M153.5,175.8h9M593.5,175.8h-9M153.5,150.9h9M593.5,150.9h-9M153.5,125.9h9M593.5,125.9h-9M153.5,101.0h9M593.5,101.0h-9M153.5,824.5v-18M153.5,76v18M182.8,824.5v-9M182.8,76v9M212.2,824.5v-9M212.2,76v9M241.5,824.5v-9M241.5,76v9M270.8,824.5v-9M270.8,76v9M300.2,824.5v-18M300.2,76v18M329.5,824.5v-9M329.5,76v9M358.8,824.5v-9M358.8,76v9M388.2,824.5v-9M388.2,76v9M417.5,824.5v-9M417.5,76v9M446.8,824.5v-18M446.8,76v18M476.2,824.5v-9M476.2,76v9M505.5,824.5v-9M505.5,76v9M534.8,824.5v-9M534.8,76v9M564.2,824.5v-9M564.2,76v9M593.5,824.5v-18M593.5,76v18' stroke='#1a1a40' stroke-width='2' fill='none' opacity='0.5'/>
<text transform='translate(140.00,835.80) scale(0.98,1)' font-family="'Liberation Serif', 'DejaVu Serif', serif" font-size='34.5' font-weight='bold' font-style='normal' text-anchor='end' fill='#111' >-150</text>
<text transform='translate(140.00,711.05) scale(0.98,1)' font-family="'Liberation Serif', 'DejaVu Serif', serif" font-size='34.5' font-weight='bold' font-style='normal' text-anchor='end' fill='#111' >-100</text>
<text transform='translate(140.00,586.30) scale(0.98,1)' font-family="'Liberation Serif', 'DejaVu Serif', serif" font-size='34.5' font-weight='bold' font-style='normal' text-anchor='end' fill='#111' >-50</text>
<text transform='translate(140.00,461.55) scale(0.98,1)' font-family="'Liberation Serif', 'DejaVu Serif', serif" font-size='34.5' font-weight='bold' font-style='normal' text-anchor='end' fill='#111' >0</text>
<text transform='translate(140.00,336.80) scale(0.98,1)' font-family="'Liberation Serif', 'DejaVu Serif', serif" font-size='34.5' font-weight='bold' font-style='normal' text-anchor='end' fill='#111' >50</text>
<text transform='translate(140.00,212.05) scale(0.98,1)' font-family="'Liberation Serif', 'DejaVu Serif', serif" font-size='34.5' font-weight='bold' font-style='normal' text-anchor='end' fill='#111' >100</text>
<text transform='translate(140.00,87.30) scale(0.98,1)' font-family="'Liberation Serif', 'DejaVu Serif', serif" font-size='34.5' font-weight='bold' font-style='normal' text-anchor='end' fill='#111' >150</text>
<text transform='translate(153.00,867.00) scale(0.98,1)' font-family="'Liberation Serif', 'DejaVu Serif', serif" font-size='34.5' font-weight='bold' font-style='normal' text-anchor='middle' fill='#111' >0</text>
<text transform='translate(299.67,867.00) scale(0.98,1)' font-family="'Liberation Serif', 'DejaVu Serif', serif" font-size='34.5' font-weight='bold' font-style='normal' text-anchor='middle' fill='#111' >50</text>
<text transform='translate(446.33,867.00) scale(0.98,1)' font-family="'Liberation Serif', 'DejaVu Serif', serif" font-size='34.5' font-weight='bold' font-style='normal' text-anchor='middle' fill='#111' >100</text>
<text transform='translate(593.00,867.00) scale(0.98,1)' font-family="'Liberation Serif', 'DejaVu Serif', serif" font-size='34.5' font-weight='bold' font-style='normal' text-anchor='middle' fill='#111' >150</text>
<text transform='translate(309.20,910.80) scale(1.148,1)' font-family="'Liberation Serif', 'DejaVu Serif', serif" font-size='34.86' font-weight='bold' font-style='normal' fill='#111'>f</text>
<text transform='translate(321.67,928.60) scale(0.950,1)' font-family="'Liberation Serif', 'DejaVu Serif', serif" font-size='29.31' font-weight='bold' font-style='normal' fill='#111'>1</text>
<text transform='translate(345.21,911.55) scale(1.029,1)' font-family="'Liberation Serif', 'DejaVu Serif', serif" font-size='36.44' font-weight='bold' font-style='normal' fill='#111'>(kHz)</text>
<g transform='translate(46,514) rotate(-90)'><text transform='translate(-0.22,0.00) scale(1.219,1)' font-family="'Liberation Serif', 'DejaVu Serif', serif" font-size='35.71' font-weight='bold' font-style='normal' fill='#111'>f</text></g>
<g transform='translate(46,514) rotate(-90)'><text transform='translate(12.55,17.70) scale(1.066,1)' font-family="'Liberation Serif', 'DejaVu Serif', serif" font-size='29.39' font-weight='bold' font-style='normal' fill='#111'>2</text></g>
<g transform='translate(46,514) rotate(-90)'><text transform='translate(36.12,0.04) scale(1.034,1)' font-family="'Liberation Serif', 'DejaVu Serif', serif" font-size='36.00' font-weight='bold' font-style='normal' fill='#111'>(kHz)</text></g>
<g clip-path='url(#hcc)'><g filter='url(#jetmap)'>
<rect x='153.5' y='974' width='440.0' height='748.5' fill='#000'/>
<g filter='url(#hch)'>
<g transform='translate(373.5,1348.2) rotate(38) scale(1.3,0.85)'><rect x='-700' y='-700' width='1400' height='1400' filter='url(#hct)'/></g>
<rect x='153.5' y='974' width='440.0' height='748.5' fill='url(#hcdg)'/>
<ellipse cx='226.8' cy='1435.6' rx='161.3' ry='162.2' fill='url(#dgw)' opacity='0.28'/>
<ellipse cx='197.5' cy='1273.4' rx='73.3' ry='149.7' fill='url(#dgw)' opacity='0.25'/>
<ellipse cx='168.2' cy='1348.2' rx='44.0' ry='374.2' fill='url(#dgw)' opacity='0.25'/>
<ellipse cx='417.5' cy='1348.2' rx='234.7' ry='37.4' fill='url(#dgw)' opacity='0.2'/>
<ellipse cx='417.5' cy='1572.8' rx='205.3' ry='62.4' fill='url(#dgw)' opacity='0.15'/>
</g>
<g filter='url(#hcb)' stroke-linecap='round'>
<line x1='168.2' y1='969.0' x2='168.2' y2='1330.8' stroke='#525252' stroke-width='11.9'/>
<circle cx='165.7' cy='969.0' r='5.4' fill='#a3a3a3'/>
<circle cx='167.2' cy='973.6' r='6.1' fill='#6c6c6c'/>
<circle cx='170.1' cy='977.8' r='6.5' fill='#6e6e6e'/>
<circle cx='165.7' cy='983.0' r='6.8' fill='#656565'/>
<circle cx='170.8' cy='985.8' r='6.6' fill='#686868'/>
<circle cx='168.0' cy='990.8' r='6.8' fill='#898989'/>
<circle cx='170.2' cy='994.4' r='6.7' fill='#6d6d6d'/>
<circle cx='166.0' cy='997.6' r='7.5' fill='#717171'/>
<circle cx='166.5' cy='1002.2' r='6.3' fill='#727272'/>
<circle cx='166.7' cy='1005.4' r='7.3' fill='#6a6a6a'/>
<circle cx='165.8' cy='1009.4' r='6.7' fill='#676767'/>
<circle cx='165.9' cy='1014.3' r='6.6' fill='#727272'/>
<circle cx='168.2' cy='1018.9' r='5.9' fill='#6e6e6e'/>
<circle cx='165.9' cy='1022.1' r='6.0' fill='#666666'/>
<circle cx='167.0' cy='1027.1' r='6.7' fill='#6d6d6d'/>
<circle cx='169.2' cy='1031.4' r='5.9' fill='#727272'/>
<circle cx='170.5' cy='1035.7' r='7.6' fill='#717171'/>
<circle cx='166.8' cy='1038.9' r='5.4' fill='#666666'/>
<circle cx='166.1' cy='1042.3' r='5.6' fill='#707070'/>
<circle cx='169.8' cy='1045.6' r='7.7' fill='#6e6e6e'/>
<circle cx='168.9' cy='1048.5' r='5.8' fill='#626262'/>
<circle cx='170.8' cy='1053.6' r='7.3' fill='#919191'/>
<circle cx='170.1' cy='1058.4' r='5.8' fill='#686868'/>
<circle cx='165.4' cy='1061.3' r='5.7' fill='#949494'/>
<circle cx='166.8' cy='1065.5' r='5.6' fill='#616161'/>
<circle cx='166.7' cy='1069.4' r='7.3' fill='#6f6f6f'/>
<circle cx='167.0' cy='1074.3' r='6.6' fill='#9e9e9e'/>
<circle cx='170.4' cy='1077.9' r='6.5' fill='#636363'/>
<circle cx='168.8' cy='1082.1' r='6.7' fill='#a7a7a7'/>
<circle cx='167.6' cy='1085.5' r='6.4' fill='#9a9a9a'/>
<circle cx='170.6' cy='1088.6' r='5.4' fill='#8c8c8c'/>
<circle cx='168.1' cy='1092.9' r='8.0' fill='#737373'/>
<circle cx='168.5' cy='1096.3' r='6.0' fill='#6c6c6c'/>
<circle cx='167.0' cy='1101.0' r='6.0' fill='#6a6a6a'/>
<circle cx='170.8' cy='1103.8' r='6.4' fill='#a0a0a0'/>
<circle cx='170.4' cy='1107.2' r='5.8' fill='#909090'/>
<circle cx='168.4' cy='1111.3' r='6.1' fill='#646464'/>
<circle cx='165.6' cy='1116.2' r='7.3' fill='#6a6a6a'/>
<circle cx='170.7' cy='1120.4' r='6.4' fill='#646464'/>
<circle cx='166.5' cy='1123.5' r='6.3' fill='#727272'/>
<circle cx='169.3' cy='1127.7' r='8.0' fill='#616161'/>
<circle cx='170.4' cy='1132.2' r='6.1' fill='#6d6d6d'/>
<circle cx='168.4' cy='1135.0' r='6.4' fill='#646464'/>
<circle cx='170.6' cy='1139.2' r='6.1' fill='#727272'/>
<circle cx='166.7' cy='1142.2' r='5.8' fill='#686868'/>
<circle cx='166.7' cy='1146.1' r='6.4' fill='#8c8c8c'/>
<circle cx='166.2' cy='1149.1' r='7.1' fill='#6d6d6d'/>
<circle cx='167.3' cy='1152.0' r='7.5' fill='#6a6a6a'/>
<circle cx='168.4' cy='1155.6' r='7.5' fill='#999999'/>
<circle cx='165.6' cy='1159.6' r='7.5' fill='#707070'/>
<circle cx='169.7' cy='1163.1' r='6.6' fill='#969696'/>
<circle cx='165.8' cy='1167.5' r='6.9' fill='#626262'/>
<circle cx='165.4' cy='1171.2' r='5.7' fill='#626262'/>
<circle cx='166.0' cy='1174.2' r='8.0' fill='#636363'/>
<circle cx='169.7' cy='1177.7' r='7.2' fill='#696969'/>
<circle cx='170.3' cy='1181.7' r='6.8' fill='#6f6f6f'/>
<circle cx='168.1' cy='1184.8' r='7.3' fill='#a5a5a5'/>
<circle cx='167.0' cy='1188.7' r='6.4' fill='#6f6f6f'/>
<circle cx='170.2' cy='1192.9' r='6.5' fill='#9c9c9c'/>
<circle cx='170.0' cy='1197.8' r='6.7' fill='#686868'/>
<circle cx='165.7' cy='1202.3' r='7.2' fill='#727272'/>
<circle cx='166.8' cy='1205.9' r='7.1' fill='#707070'/>
<circle cx='167.5' cy='1209.2' r='6.4' fill='#737373'/>
<circle cx='170.9' cy='1213.5' r='6.6' fill='#717171'/>
<circle cx='166.4' cy='1217.9' r='5.3' fill='#6e6e6e'/>
<circle cx='165.9' cy='1222.1' r='7.8' fill='#a3a3a3'/>
<circle cx='169.8' cy='1226.8' r='7.4' fill='#646464'/>
<circle cx='170.2' cy='1231.5' r='7.0' fill='#656565'/>
<circle cx='168.4' cy='1235.7' r='5.8' fill='#626262'/>
<circle cx='168.2' cy='1238.5' r='7.6' fill='#6f6f6f'/>
<circle cx='167.2' cy='1242.4' r='6.2' fill='#999999'/>
<circle cx='170.5' cy='1245.3' r='7.4' fill='#a1a1a1'/>
<circle cx='168.7' cy='1250.0' r='7.2' fill='#717171'/>
<circle cx='170.1' cy='1253.1' r='6.3' fill='#666666'/>
<circle cx='167.8' cy='1255.9' r='8.0' fill='#6b6b6b'/>
<circle cx='168.5' cy='1259.7' r='7.7' fill='#6d6d6d'/>
<circle cx='168.0' cy='1263.6' r='7.8' fill='#a3a3a3'/>
<circle cx='167.3' cy='1267.2' r='7.5' fill='#686868'/>
<circle cx='170.4' cy='1272.0' r='7.0' fill='#6a6a6a'/>
<circle cx='166.5' cy='1276.8' r='7.0' fill='#656565'/>
<circle cx='169.7' cy='1280.7' r='6.0' fill='#636363'/>
<circle cx='168.8' cy='1285.5' r='6.3' fill='#626262'/>
<circle cx='170.0' cy='1289.4' r='6.5' fill='#717171'/>
<circle cx='168.5' cy='1294.4' r='7.1' fill='#676767'/>
<circle cx='169.6' cy='1297.4' r='5.8' fill='#676767'/>
<circle cx='166.5' cy='1301.1' r='5.9' fill='#6c6c6c'/>
<circle cx='166.4' cy='1304.8' r='6.2' fill='#727272'/>
<circle cx='167.1' cy='1308.8' r='7.9' fill='#6e6e6e'/>
<circle cx='165.7' cy='1313.7' r='7.4' fill='#666666'/>
<circle cx='167.2' cy='1318.0' r='6.3' fill='#646464'/>
<circle cx='169.0' cy='1323.1' r='6.6' fill='#646464'/>
<circle cx='170.3' cy='1328.2' r='5.3' fill='#676767'/>
<line x1='168.2' y1='1365.7' x2='168.2' y2='1727.5' stroke='#525252' stroke-width='11.9'/>
<circle cx='166.7' cy='1365.7' r='6.5' fill='#656565'/>
<circle cx='168.8' cy='1370.5' r='6.1' fill='#636363'/>
<circle cx='165.8' cy='1374.1' r='5.5' fill='#8f8f8f'/>
<circle cx='168.6' cy='1377.5' r='6.0' fill='#656565'/>
<circle cx='167.5' cy='1380.9' r='6.2' fill='#6f6f6f'/>
<circle cx='170.2' cy='1383.8' r='7.7' fill='#6f6f6f'/>
<circle cx='168.0' cy='1386.9' r='7.6' fill='#6f6f6f'/>
<circle cx='168.8' cy='1391.2' r='8.1' fill='#696969'/>
<circle cx='169.2' cy='1395.5' r='7.6' fill='#6b6b6b'/>
<circle cx='165.5' cy='1399.6' r='8.0' fill='#696969'/>
<circle cx='168.0' cy='1403.4' r='5.4' fill='#a9a9a9'/>
<circle cx='165.7' cy='1406.5' r='7.2' fill='#626262'/>
<circle cx='166.5' cy='1410.0' r='5.3' fill='#949494'/>
<circle cx='170.1' cy='1413.2' r='7.1' fill='#a8a8a8'/>
<circle cx='170.7' cy='1417.6' r='7.8' fill='#989898'/>
<circle cx='170.2' cy='1421.7' r='6.7' fill='#8f8f8f'/>
<circle cx='166.4' cy='1426.7' r='6.7' fill='#717171'/>
<circle cx='168.2' cy='1429.8' r='5.6' fill='#8c8c8c'/>
<circle cx='170.7' cy='1433.2' r='5.9' fill='#6c6c6c'/>
<circle cx='165.9' cy='1438.0' r='7.3' fill='#727272'/>
<circle cx='170.4' cy='1441.2' r='7.6' fill='#646464'/>
<circle cx='169.3' cy='1444.9' r='6.5' fill='#686868'/>
<circle cx='166.4' cy='1449.6' r='6.8' fill='#666666'/>
<circle cx='165.4' cy='1454.3' r='5.9' fill='#6e6e6e'/>
<circle cx='170.8' cy='1458.6' r='6.8' fill='#8f8f8f'/>
<circle cx='167.4' cy='1462.8' r='7.0' fill='#6e6e6e'/>
<circle cx='170.7' cy='1466.8' r='7.4' fill='#707070'/>
<circle cx='170.8' cy='1471.0' r='5.8' fill='#9d9d9d'/>
<circle cx='169.9' cy='1475.1' r='8.0' fill='#717171'/>
<circle cx='169.3' cy='1479.0' r='5.9' fill='#6e6e6e'/>
<circle cx='165.9' cy='1482.5' r='6.9' fill='#686868'/>
<circle cx='168.4' cy='1487.0' r='7.1' fill='#9f9f9f'/>
<circle cx='165.9' cy='1490.5' r='5.9' fill='#6b6b6b'/>
<circle cx='168.0' cy='1494.2' r='7.9' fill='#a1a1a1'/>
<circle cx='166.6' cy='1498.7' r='6.5' fill='#676767'/>
<circle cx='169.5' cy='1502.6' r='5.8' fill='#646464'/>
<circle cx='167.8' cy='1506.5' r='6.1' fill='#9c9c9c'/>
<circle cx='169.7' cy='1511.4' r='7.0' fill='#717171'/>
<circle cx='169.2' cy='1515.9' r='5.9' fill='#666666'/>
<circle cx='166.1' cy='1518.7' r='5.8' fill='#666666'/>
<circle cx='166.9' cy='1522.1' r='6.2' fill='#686868'/>
<circle cx='170.9' cy='1526.9' r='6.9' fill='#8d8d8d'/>
<circle cx='168.9' cy='1531.2' r='5.5' fill='#727272'/>
<circle cx='168.2' cy='1535.5' r='7.5' fill='#636363'/>
<circle cx='165.6' cy='1539.0' r='7.9' fill='#9f9f9f'/>
<circle cx='167.7' cy='1543.9' r='7.2' fill='#656565'/>
<circle cx='170.6' cy='1547.2' r='7.1' fill='#9d9d9d'/>
<circle cx='168.5' cy='1551.0' r='8.0' fill='#696969'/>
<circle cx='169.8' cy='1554.7' r='5.9' fill='#707070'/>
<circle cx='165.7' cy='1557.7' r='7.2' fill='#9f9f9f'/>
<circle cx='168.1' cy='1561.5' r='5.6' fill='#6a6a6a'/>
<circle cx='167.7' cy='1566.1' r='7.2' fill='#656565'/>
<circle cx='168.3' cy='1569.0' r='5.6' fill='#939393'/>
<circle cx='167.5' cy='1573.1' r='7.1' fill='#626262'/>
<circle cx='170.5' cy='1577.2' r='7.1' fill='#636363'/>
<circle cx='167.3' cy='1580.8' r='6.6' fill='#676767'/>
<circle cx='165.8' cy='1584.4' r='7.0' fill='#a2a2a2'/>
<circle cx='165.7' cy='1588.1' r='7.1' fill='#717171'/>
<circle cx='165.6' cy='1592.1' r='5.3' fill='#707070'/>
<circle cx='167.2' cy='1594.9' r='8.1' fill='#717171'/>
<circle cx='167.9' cy='1597.9' r='7.0' fill='#686868'/>
<circle cx='170.1' cy='1602.6' r='5.4' fill='#737373'/>
<circle cx='167.2' cy='1607.4' r='6.1' fill='#616161'/>
<circle cx='166.6' cy='1610.8' r='7.8' fill='#717171'/>
<circle cx='167.6' cy='1613.8' r='5.5' fill='#8f8f8f'/>
<circle cx='168.7' cy='1616.6' r='6.7' fill='#6d6d6d'/>
<circle cx='168.1' cy='1619.6' r='6.8' fill='#727272'/>
<circle cx='168.6' cy='1622.7' r='6.6' fill='#737373'/>
<circle cx='168.1' cy='1626.8' r='6.5' fill='#727272'/>
<circle cx='167.3' cy='1631.6' r='5.7' fill='#636363'/>
<circle cx='170.8' cy='1635.2' r='7.2' fill='#6c6c6c'/>
<circle cx='169.6' cy='1639.4' r='6.5' fill='#686868'/>
<circle cx='169.7' cy='1642.8' r='7.4' fill='#707070'/>
<circle cx='170.8' cy='1647.1' r='6.1' fill='#737373'/>
<circle cx='167.8' cy='1651.2' r='7.2' fill='#9f9f9f'/>
<circle cx='166.2' cy='1654.9' r='6.6' fill='#6b6b6b'/>
<circle cx='168.4' cy='1659.0' r='7.9' fill='#686868'/>
<circle cx='165.9' cy='1663.0' r='7.4' fill='#727272'/>
<circle cx='167.6' cy='1666.1' r='7.0' fill='#727272'/>
<circle cx='168.8' cy='1671.2' r='7.0' fill='#6d6d6d'/>
<circle cx='166.5' cy='1674.9' r='6.2' fill='#9e9e9e'/>
<circle cx='168.7' cy='1679.2' r='6.7' fill='#707070'/>
<circle cx='165.9' cy='1683.0' r='6.9' fill='#6d6d6d'/>
<circle cx='165.9' cy='1687.7' r='7.2' fill='#686868'/>
<circle cx='168.4' cy='1690.6' r='5.6' fill='#676767'/>
<circle cx='166.9' cy='1694.8' r='5.8' fill='#676767'/>
<circle cx='167.6' cy='1697.8' r='6.4' fill='#696969'/>
<circle cx='170.9' cy='1700.9' r='5.4' fill='#6e6e6e'/>
<circle cx='169.1' cy='1703.8' r='6.6' fill='#737373'/>
<circle cx='167.4' cy='1708.7' r='6.9' fill='#9c9c9c'/>
<circle cx='169.3' cy='1711.9' r='7.6' fill='#6e6e6e'/>
<circle cx='169.4' cy='1715.8' r='6.7' fill='#656565'/>
<circle cx='165.5' cy='1720.6' r='5.8' fill='#a3a3a3'/>
<circle cx='169.7' cy='1725.2' r='6.9' fill='#a4a4a4'/>
<line x1='179.9' y1='1335.8' x2='599.4' y2='1335.8' stroke='#525252' stroke-width='8.8'/>
<circle cx='179.9' cy='1333.9' r='4.7' fill='#676767'/>
<circle cx='183.1' cy='1334.1' r='5.3' fill='#707070'/>
<circle cx='187.4' cy='1337.4' r='4.2' fill='#9f9f9f'/>
<circle cx='190.2' cy='1333.4' r='5.5' fill='#8e8e8e'/>
<circle cx='194.0' cy='1337.7' r='3.9' fill='#666666'/>
<circle cx='198.1' cy='1335.6' r='4.1' fill='#646464'/>
<circle cx='202.9' cy='1337.9' r='4.8' fill='#626262'/>
<circle cx='206.0' cy='1335.7' r='4.0' fill='#6a6a6a'/>
<circle cx='210.7' cy='1334.6' r='3.9' fill='#646464'/>
<circle cx='214.5' cy='1333.7' r='5.1' fill='#646464'/>
<circle cx='217.4' cy='1334.9' r='5.5' fill='#909090'/>
<circle cx='221.7' cy='1336.5' r='5.5' fill='#707070'/>
<circle cx='224.9' cy='1338.1' r='3.9' fill='#8c8c8c'/>
<circle cx='229.5' cy='1335.8' r='5.8' fill='#727272'/>
<circle cx='233.8' cy='1334.9' r='5.8' fill='#646464'/>
<circle cx='237.9' cy='1333.1' r='3.9' fill='#6e6e6e'/>
<circle cx='242.8' cy='1337.2' r='4.2' fill='#737373'/>
<circle cx='247.2' cy='1335.7' r='4.5' fill='#9d9d9d'/>
<circle cx='252.3' cy='1333.6' r='5.6' fill='#676767'/>
<circle cx='257.2' cy='1333.8' r='4.5' fill='#717171'/>
<circle cx='261.3' cy='1333.5' r='5.8' fill='#6f6f6f'/>
<circle cx='264.6' cy='1334.8' r='4.1' fill='#979797'/>
<circle cx='268.4' cy='1336.7' r='5.6' fill='#727272'/>
<circle cx='272.8' cy='1334.9' r='4.3' fill='#6d6d6d'/>
<circle cx='275.7' cy='1336.8' r='4.7' fill='#6f6f6f'/>
<circle cx='279.0' cy='1334.5' r='5.0' fill='#626262'/>
<circle cx='283.8' cy='1337.0' r='4.2' fill='#6c6c6c'/>
<circle cx='288.3' cy='1336.0' r='4.5' fill='#656565'/>
<circle cx='292.2' cy='1335.2' r='4.1' fill='#949494'/>
<circle cx='296.0' cy='1336.1' r='5.4' fill='#9a9a9a'/>
<circle cx='299.6' cy='1334.2' r='4.2' fill='#727272'/>
<circle cx='304.4' cy='1333.9' r='4.2' fill='#929292'/>
<circle cx='308.2' cy='1333.0' r='4.7' fill='#707070'/>
<circle cx='311.4' cy='1333.0' r='5.5' fill='#666666'/>
<circle cx='314.6' cy='1334.5' r='4.4' fill='#909090'/>
<circle cx='318.6' cy='1337.5' r='4.5' fill='#6a6a6a'/>
<circle cx='323.5' cy='1337.3' r='5.9' fill='#a2a2a2'/>
<circle cx='327.0' cy='1336.2' r='5.0' fill='#666666'/>
<circle cx='329.9' cy='1333.0' r='5.8' fill='#696969'/>
<circle cx='333.0' cy='1337.7' r='4.9' fill='#6c6c6c'/>
<circle cx='336.1' cy='1334.2' r='5.6' fill='#737373'/>
<circle cx='340.0' cy='1338.4' r='5.7' fill='#717171'/>
<circle cx='343.2' cy='1333.4' r='5.6' fill='#999999'/>
<circle cx='347.7' cy='1336.8' r='4.3' fill='#616161'/>
<circle cx='351.9' cy='1338.0' r='5.0' fill='#737373'/>
<circle cx='356.4' cy='1337.4' r='5.7' fill='#6b6b6b'/>
<circle cx='361.2' cy='1335.8' r='4.4' fill='#919191'/>
<circle cx='364.1' cy='1336.4' r='4.7' fill='#616161'/>
<circle cx='368.8' cy='1334.1' r='4.5' fill='#727272'/>
<circle cx='373.1' cy='1335.6' r='4.3' fill='#949494'/>
<circle cx='378.2' cy='1335.5' r='5.3' fill='#616161'/>
<circle cx='381.8' cy='1335.3' r='4.3' fill='#6d6d6d'/>
<circle cx='384.9' cy='1336.9' r='4.5' fill='#646464'/>
<circle cx='389.6' cy='1335.3' r='5.6' fill='#6b6b6b'/>
<circle cx='392.5' cy='1335.0' r='5.9' fill='#6f6f6f'/>
<circle cx='396.4' cy='1338.2' r='5.7' fill='#6b6b6b'/>
<circle cx='399.5' cy='1333.0' r='4.3' fill='#707070'/>
<circle cx='404.1' cy='1337.9' r='3.9' fill='#919191'/>
<circle cx='407.0' cy='1336.3' r='5.8' fill='#626262'/>
<circle cx='411.4' cy='1336.7' r='5.2' fill='#656565'/>
<circle cx='416.3' cy='1338.0' r='5.4' fill='#616161'/>
<circle cx='419.7' cy='1334.3' r='4.4' fill='#9e9e9e'/>
<circle cx='424.2' cy='1334.0' r='5.7' fill='#a7a7a7'/>
<circle cx='428.4' cy='1336.6' r='4.5' fill='#717171'/>
<circle cx='431.7' cy='1333.7' r='5.5' fill='#8c8c8c'/>
<circle cx='435.7' cy='1334.0' r='4.3' fill='#626262'/>
<circle cx='440.4' cy='1336.1' r='5.2' fill='#6f6f6f'/>
<circle cx='445.5' cy='1338.6' r='4.0' fill='#626262'/>
<circle cx='449.5' cy='1336.7' r='5.1' fill='#727272'/>
<circle cx='453.8' cy='1338.6' r='4.8' fill='#626262'/>
<circle cx='457.8' cy='1336.6' r='4.4' fill='#636363'/>
<circle cx='461.8' cy='1336.4' r='4.9' fill='#8f8f8f'/>
<circle cx='465.5' cy='1336.6' r='4.8' fill='#939393'/>
<circle cx='469.0' cy='1333.7' r='5.1' fill='#676767'/>
<circle cx='471.8' cy='1338.1' r='4.0' fill='#929292'/>
<circle cx='476.5' cy='1338.2' r='5.4' fill='#a4a4a4'/>
<circle cx='479.4' cy='1333.6' r='4.1' fill='#6c6c6c'/>
<circle cx='483.7' cy='1338.3' r='5.4' fill='#646464'/>
<circle cx='488.7' cy='1338.1' r='5.6' fill='#9f9f9f'/>
<circle cx='492.7' cy='1336.0' r='4.4' fill='#707070'/>
<circle cx='497.4' cy='1334.7' r='5.4' fill='#9e9e9e'/>
<circle cx='500.2' cy='1333.0' r='4.1' fill='#737373'/>
<circle cx='504.1' cy='1336.6' r='5.1' fill='#737373'/>
<circle cx='508.9' cy='1334.8' r='4.0' fill='#666666'/>
<circle cx='513.5' cy='1337.8' r='4.2' fill='#969696'/>
<circle cx='518.4' cy='1337.7' r='5.9' fill='#9d9d9d'/>
<circle cx='523.3' cy='1335.1' r='5.1' fill='#a4a4a4'/>
<circle cx='527.1' cy='1335.7' r='5.2' fill='#707070'/>
<circle cx='531.0' cy='1335.4' r='5.4' fill='#6e6e6e'/>
<circle cx='535.9' cy='1337.5' r='4.7' fill='#717171'/>
<circle cx='538.9' cy='1336.7' r='5.0' fill='#636363'/>
<circle cx='542.3' cy='1337.2' r='5.7' fill='#6f6f6f'/>
<circle cx='547.3' cy='1337.6' r='4.2' fill='#717171'/>
<circle cx='551.9' cy='1334.5' r='5.3' fill='#696969'/>
<circle cx='556.4' cy='1336.8' r='4.2' fill='#626262'/>
<circle cx='559.7' cy='1337.6' r='5.8' fill='#a1a1a1'/>
<circle cx='562.9' cy='1335.8' r='4.6' fill='#969696'/>
<circle cx='567.1' cy='1337.7' r='4.1' fill='#616161'/>
<circle cx='570.4' cy='1334.5' r='5.6' fill='#656565'/>
<circle cx='574.3' cy='1335.9' r='4.9' fill='#727272'/>
<circle cx='577.2' cy='1335.3' r='5.0' fill='#6a6a6a'/>
<circle cx='582.0' cy='1333.5' r='4.8' fill='#646464'/>
<circle cx='585.2' cy='1336.4' r='4.2' fill='#636363'/>
<circle cx='588.5' cy='1334.8' r='5.5' fill='#6c6c6c'/>
<circle cx='592.8' cy='1335.2' r='5.9' fill='#6c6c6c'/>
<circle cx='595.7' cy='1334.4' r='5.1' fill='#6e6e6e'/>
<circle cx='598.7' cy='1337.5' r='4.3' fill='#646464'/>
<line x1='188.7' y1='1360.7' x2='599.4' y2='1360.7' stroke='#525252' stroke-width='8.8'/>
<circle cx='188.7' cy='1360.6' r='5.1' fill='#6c6c6c'/>
<circle cx='192.5' cy='1359.7' r='5.0' fill='#919191'/>
<circle cx='197.2' cy='1359.8' r='5.4' fill='#696969'/>
<circle cx='201.9' cy='1359.8' r='3.9' fill='#6e6e6e'/>
<circle cx='206.5' cy='1363.1' r='4.7' fill='#6c6c6c'/>
<circle cx='211.4' cy='1359.5' r='5.4' fill='#656565'/>
<circle cx='214.2' cy='1358.8' r='5.2' fill='#a7a7a7'/>
<circle cx='217.3' cy='1362.9' r='4.6' fill='#676767'/>
<circle cx='220.3' cy='1361.7' r='4.5' fill='#707070'/>
<circle cx='223.7' cy='1360.7' r='5.0' fill='#656565'/>
<circle cx='227.9' cy='1360.8' r='5.1' fill='#696969'/>
<circle cx='231.6' cy='1360.1' r='5.9' fill='#626262'/>
<circle cx='235.4' cy='1362.2' r='5.3' fill='#969696'/>
<circle cx='239.3' cy='1362.7' r='4.4' fill='#707070'/>
<circle cx='242.1' cy='1360.7' r='5.0' fill='#717171'/>
<circle cx='245.4' cy='1362.6' r='3.9' fill='#656565'/>
<circle cx='248.3' cy='1362.5' r='5.9' fill='#6f6f6f'/>
<circle cx='252.0' cy='1359.3' r='5.2' fill='#656565'/>
<circle cx='255.7' cy='1359.4' r='4.4' fill='#616161'/>
<circle cx='258.6' cy='1359.0' r='5.5' fill='#6f6f6f'/>
<circle cx='263.0' cy='1362.9' r='5.1' fill='#8c8c8c'/>
<circle cx='266.8' cy='1358.6' r='4.5' fill='#a8a8a8'/>
<circle cx='271.9' cy='1361.7' r='4.7' fill='#626262'/>
<circle cx='275.8' cy='1358.7' r='5.0' fill='#686868'/>
<circle cx='280.3' cy='1362.5' r='5.8' fill='#656565'/>
<circle cx='285.2' cy='1360.7' r='4.4' fill='#717171'/>
<circle cx='290.4' cy='1360.0' r='4.4' fill='#929292'/>
<circle cx='293.7' cy='1363.1' r='5.2' fill='#8c8c8c'/>
<circle cx='297.0' cy='1363.3' r='4.6' fill='#656565'/>
<circle cx='300.2' cy='1363.2' r='4.0' fill='#6a6a6a'/>
<circle cx='303.9' cy='1362.2' r='5.6' fill='#929292'/>
<circle cx='307.8' cy='1360.6' r='5.2' fill='#676767'/>
<circle cx='312.9' cy='1360.5' r='3.9' fill='#6a6a6a'/>
<circle cx='316.1' cy='1362.9' r='5.1' fill='#666666'/>
<circle cx='319.2' cy='1359.5' r='5.2' fill='#6d6d6d'/>
<circle cx='322.1' cy='1362.3' r='5.3' fill='#6a6a6a'/>
<circle cx='327.0' cy='1363.3' r='5.1' fill='#6b6b6b'/>
<circle cx='331.7' cy='1361.7' r='5.5' fill='#6c6c6c'/>
<circle cx='335.1' cy='1361.2' r='3.9' fill='#6e6e6e'/>
<circle cx='340.0' cy='1360.6' r='5.7' fill='#898989'/>
<circle cx='344.2' cy='1359.8' r='4.7' fill='#6f6f6f'/>
<circle cx='349.0' cy='1359.7' r='5.1' fill='#6d6d6d'/>
<circle cx='353.2' cy='1360.5' r='5.5' fill='#a2a2a2'/>
<circle cx='356.4' cy='1358.9' r='5.3' fill='#676767'/>
<circle cx='359.4' cy='1358.2' r='4.4' fill='#9f9f9f'/>
<circle cx='362.7' cy='1360.1' r='4.7' fill='#707070'/>
<circle cx='367.0' cy='1359.1' r='4.2' fill='#676767'/>
<circle cx='371.6' cy='1359.1' r='5.3' fill='#666666'/>
<circle cx='374.8' cy='1362.1' r='4.9' fill='#707070'/>
<circle cx='377.7' cy='1361.0' r='4.6' fill='#a3a3a3'/>
<circle cx='381.0' cy='1360.2' r='4.8' fill='#939393'/>
<circle cx='383.9' cy='1360.7' r='5.2' fill='#727272'/>
<circle cx='387.5' cy='1363.3' r='4.1' fill='#9a9a9a'/>
<circle cx='391.9' cy='1361.3' r='3.9' fill='#6a6a6a'/>
<circle cx='395.6' cy='1362.2' r='5.4' fill='#989898'/>
<circle cx='400.1' cy='1362.3' r='5.2' fill='#6e6e6e'/>
<circle cx='403.8' cy='1362.6' r='5.1' fill='#6c6c6c'/>
<circle cx='408.4' cy='1361.9' r='4.8' fill='#686868'/>
<circle cx='413.0' cy='1363.0' r='5.0' fill='#a6a6a6'/>
<circle cx='416.3' cy='1359.1' r='4.0' fill='#686868'/>
<circle cx='421.1' cy='1358.9' r='4.7' fill='#616161'/>
<circle cx='424.9' cy='1358.8' r='5.5' fill='#636363'/>
<circle cx='428.0' cy='1359.1' r='5.3' fill='#8a8a8a'/>
<circle cx='431.3' cy='1358.2' r='5.4' fill='#6a6a6a'/>
<circle cx='434.9' cy='1358.1' r='5.3' fill='#9a9a9a'/>
<circle cx='440.1' cy='1359.3' r='5.3' fill='#6a6a6a'/>
<circle cx='443.9' cy='1361.9' r='4.9' fill='#a3a3a3'/>
<circle cx='447.2' cy='1359.9' r='4.9' fill='#6f6f6f'/>
<circle cx='450.3' cy='1360.1' r='5.2' fill='#656565'/>
<circle cx='455.0' cy='1363.3' r='5.2' fill='#636363'/>
<circle cx='459.0' cy='1362.3' r='4.5' fill='#696969'/>
<circle cx='462.5' cy='1361.4' r='4.5' fill='#707070'/>
<circle cx='466.1' cy='1358.3' r='3.9' fill='#686868'/>
<circle cx='469.2' cy='1358.2' r='5.5' fill='#a6a6a6'/>
<circle cx='472.8' cy='1361.4' r='4.6' fill='#636363'/>
<circle cx='476.3' cy='1358.6' r='4.0' fill='#737373'/>
<circle cx='479.1' cy='1362.8' r='4.5' fill='#8a8a8a'/>
<circle cx='482.7' cy='1358.4' r='4.9' fill='#646464'/>
<circle cx='487.6' cy='1361.2' r='5.4' fill='#a0a0a0'/>
<circle cx='492.1' cy='1362.3' r='4.3' fill='#696969'/>
<circle cx='495.1' cy='1363.1' r='4.5' fill='#646464'/>
<circle cx='498.1' cy='1360.8' r='5.0' fill='#6c6c6c'/>
<circle cx='501.7' cy='1362.2' r='4.9' fill='#9b9b9b'/>
<circle cx='505.4' cy='1361.0' r='4.2' fill='#919191'/>
<circle cx='509.8' cy='1358.1' r='4.7' fill='#717171'/>
<circle cx='512.9' cy='1360.8' r='5.5' fill='#727272'/>
<circle cx='516.3' cy='1360.7' r='4.5' fill='#626262'/>
<circle cx='520.9' cy='1361.6' r='5.6' fill='#646464'/>
<circle cx='525.3' cy='1363.2' r='5.0' fill='#999999'/>
<circle cx='530.2' cy='1362.5' r='5.2' fill='#616161'/>
<circle cx='533.3' cy='1358.0' r='4.8' fill='#616161'/>
<circle cx='538.1' cy='1361.0' r='5.4' fill='#6f6f6f'/>
<circle cx='542.7' cy='1361.5' r='5.0' fill='#6f6f6f'/>
<circle cx='546.2' cy='1362.4' r='4.2' fill='#727272'/>
<circle cx='549.5' cy='1362.9' r='4.9' fill='#636363'/>
<circle cx='552.4' cy='1359.3' r='5.1' fill='#6b6b6b'/>
<circle cx='556.5' cy='1360.1' r='4.9' fill='#717171'/>
<circle cx='560.1' cy='1361.7' r='4.6' fill='#8a8a8a'/>
<circle cx='563.9' cy='1361.3' r='4.9' fill='#6f6f6f'/>
<circle cx='567.8' cy='1361.8' r='5.0' fill='#676767'/>
<circle cx='571.6' cy='1362.2' r='4.5' fill='#676767'/>
<circle cx='574.8' cy='1361.0' r='5.0' fill='#666666'/>
<circle cx='580.0' cy='1360.7' r='5.3' fill='#6b6b6b'/>
<circle cx='583.5' cy='1358.9' r='5.6' fill='#666666'/>
<circle cx='587.3' cy='1361.1' r='4.0' fill='#737373'/>
<circle cx='591.7' cy='1360.5' r='4.1' fill='#6b6b6b'/>
<circle cx='596.2' cy='1362.9' r='4.4' fill='#a8a8a8'/>
<line x1='197.0' y1='1370.5' x2='601.5' y2='1710.4' stroke='#525252' stroke-width='6.6'/>
<circle cx='196.6' cy='1370.9' r='4.4' fill='#6e6e6e'/>
<circle cx='198.7' cy='1375.2' r='4.1' fill='#686868'/>
<circle cx='203.9' cy='1374.1' r='3.7' fill='#6d6d6d'/>
<circle cx='204.2' cy='1379.9' r='3.6' fill='#9a9a9a'/>
<circle cx='210.1' cy='1379.6' r='4.1' fill='#a6a6a6'/>
<circle cx='210.5' cy='1385.2' r='3.9' fill='#646464'/>
<circle cx='214.1' cy='1388.5' r='3.2' fill='#636363'/>
<circle cx='218.4' cy='1391.1' r='4.4' fill='#686868'/>
<circle cx='224.6' cy='1390.4' r='3.1' fill='#6e6e6e'/>
<circle cx='227.4' cy='1392.5' r='3.0' fill='#676767'/>
<circle cx='228.8' cy='1398.6' r='4.3' fill='#6e6e6e'/>
<circle cx='234.0' cy='1399.6' r='4.1' fill='#6d6d6d'/>
<circle cx='236.3' cy='1403.1' r='4.3' fill='#646464'/>
<circle cx='239.6' cy='1406.6' r='3.0' fill='#717171'/>
<circle cx='243.0' cy='1408.6' r='3.4' fill='#9a9a9a'/>
<circle cx='245.1' cy='1412.1' r='4.0' fill='#a1a1a1'/>
<circle cx='249.0' cy='1413.5' r='3.2' fill='#6d6d6d'/>
<circle cx='251.1' cy='1418.3' r='3.5' fill='#6c6c6c'/>
<circle cx='256.9' cy='1417.2' r='4.1' fill='#696969'/>
<circle cx='260.5' cy='1420.6' r='3.9' fill='#6c6c6c'/>
<circle cx='260.9' cy='1425.8' r='3.3' fill='#686868'/>
<circle cx='264.9' cy='1427.0' r='4.4' fill='#6b6b6b'/>
<circle cx='266.9' cy='1429.5' r='4.1' fill='#727272'/>
<circle cx='270.7' cy='1431.5' r='4.3' fill='#737373'/>
<circle cx='272.0' cy='1434.8' r='3.2' fill='#a1a1a1'/>
<circle cx='276.0' cy='1437.6' r='3.4' fill='#666666'/>
<circle cx='280.1' cy='1438.1' r='4.4' fill='#646464'/>
<circle cx='281.8' cy='1443.6' r='4.1' fill='#9a9a9a'/>
<circle cx='285.6' cy='1446.4' r='4.4' fill='#939393'/>
<circle cx='289.5' cy='1447.6' r='4.5' fill='#707070'/>
<circle cx='291.5' cy='1451.9' r='4.3' fill='#9d9d9d'/>
<circle cx='297.7' cy='1452.7' r='3.6' fill='#707070'/>
<circle cx='300.8' cy='1455.0' r='3.5' fill='#6b6b6b'/>
<circle cx='300.5' cy='1459.8' r='3.4' fill='#9d9d9d'/>
<circle cx='304.6' cy='1461.7' r='3.1' fill='#a0a0a0'/>
<circle cx='309.9' cy='1461.8' r='3.8' fill='#989898'/>
<circle cx='312.5' cy='1465.6' r='3.6' fill='#666666'/>
<circle cx='316.4' cy='1467.6' r='4.0' fill='#969696'/>
<circle cx='317.8' cy='1474.1' r='3.2' fill='#686868'/>
<circle cx='322.7' cy='1474.5' r='3.2' fill='#686868'/>
<circle cx='323.3' cy='1478.8' r='3.1' fill='#636363'/>
<circle cx='324.8' cy='1481.5' r='3.7' fill='#636363'/>
<circle cx='331.0' cy='1479.9' r='4.3' fill='#a7a7a7'/>
<circle cx='334.4' cy='1483.8' r='3.4' fill='#898989'/>
<circle cx='336.2' cy='1487.7' r='4.3' fill='#646464'/>
<circle cx='340.5' cy='1488.6' r='3.0' fill='#707070'/>
<circle cx='339.8' cy='1494.0' r='4.3' fill='#6c6c6c'/>
<circle cx='343.3' cy='1495.4' r='3.2' fill='#707070'/>
<circle cx='346.4' cy='1498.0' r='3.2' fill='#636363'/>
<circle cx='349.8' cy='1499.6' r='4.4' fill='#929292'/>
<circle cx='354.6' cy='1501.1' r='3.6' fill='#a8a8a8'/>
<circle cx='357.7' cy='1504.7' r='4.5' fill='#666666'/>
<circle cx='358.8' cy='1508.1' r='3.9' fill='#898989'/>
<circle cx='360.7' cy='1511.2' r='4.0' fill='#6d6d6d'/>
<circle cx='363.5' cy='1513.2' r='3.7' fill='#6c6c6c'/>
<circle cx='366.9' cy='1516.0' r='4.5' fill='#727272'/>
<circle cx='371.9' cy='1516.1' r='3.4' fill='#717171'/>
<circle cx='374.9' cy='1518.1' r='3.1' fill='#727272'/>
<circle cx='378.1' cy='1520.2' r='4.1' fill='#686868'/>
<circle cx='380.3' cy='1523.6' r='3.8' fill='#727272'/>
<circle cx='381.0' cy='1528.5' r='3.9' fill='#707070'/>
<circle cx='385.0' cy='1528.9' r='4.4' fill='#717171'/>
<circle cx='387.8' cy='1531.9' r='4.2' fill='#a8a8a8'/>
<circle cx='392.0' cy='1534.3' r='3.9' fill='#616161'/>
<circle cx='393.2' cy='1538.2' r='3.0' fill='#666666'/>
<circle cx='398.8' cy='1536.8' r='3.4' fill='#6d6d6d'/>
<circle cx='400.5' cy='1542.2' r='3.2' fill='#727272'/>
<circle cx='402.7' cy='1544.8' r='3.3' fill='#6b6b6b'/>
<circle cx='406.9' cy='1547.2' r='3.2' fill='#616161'/>
<circle cx='410.3' cy='1550.2' r='3.5' fill='#676767'/>
<circle cx='413.3' cy='1552.9' r='4.2' fill='#a8a8a8'/>
<circle cx='418.4' cy='1554.3' r='4.4' fill='#a4a4a4'/>
<circle cx='418.5' cy='1559.3' r='4.3' fill='#6d6d6d'/>
<circle cx='422.9' cy='1561.3' r='3.5' fill='#717171'/>
<circle cx='425.2' cy='1564.9' r='3.5' fill='#6d6d6d'/>
<circle cx='428.2' cy='1566.9' r='4.2' fill='#959595'/>
<circle cx='432.9' cy='1568.9' r='3.0' fill='#646464'/>
<circle cx='434.5' cy='1573.1' r='4.1' fill='#616161'/>
<circle cx='440.0' cy='1571.9' r='4.5' fill='#8e8e8e'/>
<circle cx='441.0' cy='1577.6' r='4.1' fill='#717171'/>
<circle cx='447.0' cy='1577.2' r='4.3' fill='#a8a8a8'/>
<circle cx='448.0' cy='1582.4' r='3.3' fill='#676767'/>
<circle cx='453.3' cy='1582.7' r='4.0' fill='#6c6c6c'/>
<circle cx='455.1' cy='1587.9' r='3.8' fill='#646464'/>
<circle cx='457.1' cy='1591.3' r='4.1' fill='#6e6e6e'/>
<circle cx='461.1' cy='1593.4' r='3.3' fill='#707070'/>
<circle cx='464.6' cy='1594.5' r='3.6' fill='#626262'/>
<circle cx='465.0' cy='1598.8' r='4.1' fill='#646464'/>
<circle cx='469.9' cy='1597.3' r='4.3' fill='#a4a4a4'/>
<circle cx='470.1' cy='1602.2' r='3.3' fill='#6f6f6f'/>
<circle cx='475.2' cy='1602.4' r='3.7' fill='#a8a8a8'/>
<circle cx='477.0' cy='1606.3' r='3.4' fill='#717171'/>
<circle cx='479.8' cy='1610.6' r='4.4' fill='#616161'/>
<circle cx='485.1' cy='1609.7' r='4.3' fill='#a2a2a2'/>
<circle cx='487.3' cy='1612.2' r='3.5' fill='#656565'/>
<circle cx='487.6' cy='1616.8' r='3.4' fill='#696969'/>
<circle cx='492.1' cy='1618.5' r='3.3' fill='#a4a4a4'/>
<circle cx='495.6' cy='1619.6' r='3.9' fill='#676767'/>
<circle cx='498.0' cy='1622.3' r='3.7' fill='#6b6b6b'/>
<circle cx='501.2' cy='1624.8' r='3.5' fill='#707070'/>
<circle cx='503.2' cy='1630.1' r='3.3' fill='#666666'/>
<circle cx='507.2' cy='1631.0' r='3.1' fill='#727272'/>
<circle cx='507.8' cy='1635.1' r='3.6' fill='#9a9a9a'/>
<circle cx='512.4' cy='1634.3' r='4.1' fill='#6e6e6e'/>
<circle cx='513.5' cy='1638.4' r='4.1' fill='#696969'/>
<circle cx='518.4' cy='1637.7' r='3.7' fill='#707070'/>
<circle cx='520.8' cy='1639.6' r='3.5' fill='#6e6e6e'/>
<circle cx='523.5' cy='1643.1' r='3.1' fill='#636363'/>
<circle cx='525.8' cy='1647.7' r='4.4' fill='#696969'/>
<circle cx='531.0' cy='1648.3' r='4.3' fill='#6d6d6d'/>
<circle cx='532.6' cy='1650.9' r='3.2' fill='#686868'/>
<circle cx='535.8' cy='1655.0' r='3.8' fill='#686868'/>
<circle cx='537.3' cy='1657.8' r='3.7' fill='#a1a1a1'/>
<circle cx='538.8' cy='1660.5' r='3.8' fill='#6a6a6a'/>
<circle cx='542.6' cy='1660.8' r='3.3' fill='#616161'/>
<circle cx='544.9' cy='1665.0' r='3.8' fill='#6d6d6d'/>
<circle cx='547.1' cy='1668.1' r='4.4' fill='#6f6f6f'/>
<circle cx='549.8' cy='1670.2' r='4.0' fill='#9d9d9d'/>
<circle cx='553.7' cy='1671.3' r='3.1' fill='#727272'/>
<circle cx='557.4' cy='1673.4' r='4.0' fill='#8d8d8d'/>
<circle cx='560.8' cy='1675.2' r='3.7' fill='#626262'/>
<circle cx='561.9' cy='1679.4' r='4.1' fill='#616161'/>
<circle cx='567.8' cy='1679.1' r='3.3' fill='#a8a8a8'/>
<circle cx='569.8' cy='1682.4' r='3.1' fill='#6f6f6f'/>
<circle cx='572.2' cy='1685.2' r='3.1' fill='#8c8c8c'/>
<circle cx='574.3' cy='1690.1' r='3.7' fill='#686868'/>
<circle cx='580.0' cy='1690.3' r='3.5' fill='#676767'/>
<circle cx='583.1' cy='1694.7' r='2.9' fill='#717171'/>
<circle cx='585.6' cy='1696.7' r='3.8' fill='#616161'/>
<circle cx='590.4' cy='1698.0' r='4.1' fill='#6c6c6c'/>
<circle cx='591.9' cy='1700.7' r='3.7' fill='#696969'/>
<circle cx='592.8' cy='1704.9' r='4.1' fill='#6c6c6c'/>
<circle cx='595.9' cy='1708.5' r='3.2' fill='#a3a3a3'/>
<circle cx='599.2' cy='1711.2' r='4.3' fill='#919191'/>
<line x1='178.0' y1='1384.0' x2='577.0' y2='1728.9' stroke='#525252' stroke-width='6.6'/>
<circle cx='177.0' cy='1385.2' r='4.4' fill='#919191'/>
<circle cx='181.3' cy='1384.8' r='3.6' fill='#656565'/>
<circle cx='183.5' cy='1388.2' r='4.4' fill='#686868'/>
<circle cx='186.4' cy='1389.5' r='3.1' fill='#666666'/>
<circle cx='189.7' cy='1390.6' r='3.2' fill='#6a6a6a'/>
<circle cx='190.4' cy='1396.3' r='3.2' fill='#6b6b6b'/>
<circle cx='195.4' cy='1398.4' r='3.3' fill='#9f9f9f'/>
<circle cx='199.4' cy='1401.0' r='4.2' fill='#686868'/>
<circle cx='199.4' cy='1405.6' r='3.3' fill='#686868'/>
<circle cx='204.1' cy='1406.2' r='3.1' fill='#626262'/>
<circle cx='208.4' cy='1407.4' r='3.9' fill='#727272'/>
<circle cx='210.1' cy='1412.6' r='4.2' fill='#707070'/>
<circle cx='212.6' cy='1416.3' r='4.3' fill='#717171'/>
<circle cx='214.4' cy='1418.6' r='3.7' fill='#656565'/>
<circle cx='218.4' cy='1419.4' r='3.5' fill='#949494'/>
<circle cx='219.2' cy='1423.3' r='3.1' fill='#6f6f6f'/>
<circle cx='224.1' cy='1425.6' r='4.1' fill='#717171'/>
<circle cx='228.6' cy='1427.8' r='4.5' fill='#686868'/>
<circle cx='230.8' cy='1430.6' r='3.8' fill='#696969'/>
<circle cx='232.8' cy='1434.1' r='3.1' fill='#999999'/>
<circle cx='239.0' cy='1433.2' r='3.6' fill='#8f8f8f'/>
<circle cx='242.6' cy='1436.2' r='3.3' fill='#707070'/>
<circle cx='244.3' cy='1441.4' r='3.7' fill='#6b6b6b'/>
<circle cx='248.1' cy='1444.1' r='3.1' fill='#646464'/>
<circle cx='250.4' cy='1447.9' r='3.7' fill='#626262'/>
<circle cx='255.5' cy='1447.9' r='3.8' fill='#626262'/>
<circle cx='256.9' cy='1451.8' r='3.4' fill='#666666'/>
<circle cx='260.7' cy='1452.0' r='3.0' fill='#616161'/>
<circle cx='260.4' cy='1458.3' r='3.4' fill='#6a6a6a'/>
<circle cx='264.6' cy='1458.4' r='3.0' fill='#626262'/>
<circle cx='266.8' cy='1460.5' r='3.5' fill='#8e8e8e'/>
<circle cx='267.6' cy='1464.9' r='4.5' fill='#616161'/>
<circle cx='270.9' cy='1467.2' r='3.3' fill='#686868'/>
<circle cx='276.5' cy='1466.0' r='3.4' fill='#666666'/>
<circle cx='276.9' cy='1471.1' r='3.7' fill='#8b8b8b'/>
<circle cx='282.6' cy='1472.0' r='3.6' fill='#737373'/>
<circle cx='283.6' cy='1477.1' r='3.9' fill='#696969'/>
<circle cx='286.8' cy='1478.4' r='3.9' fill='#9c9c9c'/>
<circle cx='290.4' cy='1480.2' r='3.7' fill='#676767'/>
<circle cx='294.5' cy='1483.4' r='3.7' fill='#929292'/>
<circle cx='297.4' cy='1487.3' r='4.0' fill='#6d6d6d'/>
<circle cx='299.9' cy='1492.1' r='3.3' fill='#616161'/>
<circle cx='303.1' cy='1495.1' r='4.1' fill='#6b6b6b'/>
<circle cx='309.0' cy='1495.3' r='3.4' fill='#8d8d8d'/>
<circle cx='313.0' cy='1497.8' r='4.2' fill='#a4a4a4'/>
<circle cx='317.1' cy='1500.9' r='3.8' fill='#696969'/>
<circle cx='317.6' cy='1504.7' r='4.0' fill='#636363'/>
<circle cx='322.5' cy='1505.4' r='3.2' fill='#696969'/>
<circle cx='324.4' cy='1508.8' r='4.4' fill='#8e8e8e'/>
<circle cx='327.7' cy='1512.0' r='4.3' fill='#6a6a6a'/>
<circle cx='330.7' cy='1515.1' r='4.1' fill='#6c6c6c'/>
<circle cx='331.5' cy='1519.8' r='3.0' fill='#727272'/>
<circle cx='335.1' cy='1520.8' r='3.1' fill='#727272'/>
<circle cx='339.0' cy='1520.9' r='3.2' fill='#909090'/>
<circle cx='341.3' cy='1526.0' r='3.7' fill='#6d6d6d'/>
<circle cx='346.2' cy='1528.2' r='3.8' fill='#666666'/>
<circle cx='349.8' cy='1531.7' r='3.7' fill='#636363'/>
<circle cx='351.4' cy='1535.4' r='4.3' fill='#626262'/>
<circle cx='354.8' cy='1537.9' r='3.9' fill='#8b8b8b'/>
<circle cx='359.3' cy='1538.9' r='4.2' fill='#626262'/>
<circle cx='362.1' cy='1542.8' r='3.6' fill='#717171'/>
<circle cx='362.6' cy='1546.8' r='4.4' fill='#737373'/>
<circle cx='367.1' cy='1548.8' r='3.8' fill='#6b6b6b'/>
<circle cx='372.3' cy='1550.0' r='3.6' fill='#898989'/>
<circle cx='374.3' cy='1554.5' r='3.3' fill='#6e6e6e'/>
<circle cx='377.9' cy='1557.5' r='3.4' fill='#656565'/>
<circle cx='380.2' cy='1561.1' r='3.7' fill='#707070'/>
<circle cx='384.7' cy='1561.9' r='3.4' fill='#626262'/>
<circle cx='388.8' cy='1564.4' r='3.1' fill='#949494'/>
<circle cx='390.2' cy='1568.3' r='3.5' fill='#989898'/>
<circle cx='393.6' cy='1570.5' r='3.5' fill='#737373'/>
<circle cx='395.7' cy='1573.7' r='3.6' fill='#686868'/>
<circle cx='398.2' cy='1578.0' r='4.1' fill='#616161'/>
<circle cx='402.7' cy='1579.6' r='3.2' fill='#707070'/>
<circle cx='407.5' cy='1581.7' r='3.2' fill='#898989'/>
<circle cx='408.4' cy='1586.7' r='3.5' fill='#636363'/>
<circle cx='414.2' cy='1587.1' r='3.4' fill='#6d6d6d'/>
<circle cx='416.1' cy='1591.4' r='3.2' fill='#6b6b6b'/>
<circle cx='420.8' cy='1592.6' r='3.7' fill='#979797'/>
<circle cx='422.9' cy='1596.1' r='3.7' fill='#6b6b6b'/>
<circle cx='428.3' cy='1597.8' r='4.0' fill='#6f6f6f'/>
<circle cx='430.3' cy='1600.3' r='4.1' fill='#676767'/>
<circle cx='433.3' cy='1604.2' r='3.4' fill='#646464'/>
<circle cx='434.8' cy='1609.5' r='4.1' fill='#626262'/>
<circle cx='439.0' cy='1612.4' r='4.2' fill='#626262'/>
<circle cx='443.1' cy='1613.1' r='3.9' fill='#a5a5a5'/>
<circle cx='445.2' cy='1616.7' r='4.3' fill='#8f8f8f'/>
<circle cx='450.6' cy='1616.9' r='3.0' fill='#a2a2a2'/>
<circle cx='453.3' cy='1621.1' r='3.7' fill='#666666'/>
<circle cx='456.0' cy='1623.5' r='3.4' fill='#6b6b6b'/>
<circle cx='459.4' cy='1624.3' r='4.1' fill='#707070'/>
<circle cx='461.0' cy='1629.3' r='3.3' fill='#696969'/>
<circle cx='465.7' cy='1630.9' r='4.5' fill='#737373'/>
<circle cx='468.8' cy='1633.1' r='3.6' fill='#6d6d6d'/>
<circle cx='470.8' cy='1635.1' r='4.5' fill='#626262'/>
<circle cx='471.9' cy='1640.1' r='4.4' fill='#9f9f9f'/>
<circle cx='474.8' cy='1641.6' r='3.8' fill='#8e8e8e'/>
<circle cx='477.4' cy='1644.3' r='4.5' fill='#919191'/>
<circle cx='481.7' cy='1646.2' r='3.9' fill='#6f6f6f'/>
<circle cx='484.9' cy='1648.3' r='4.0' fill='#6d6d6d'/>
<circle cx='486.6' cy='1652.5' r='3.3' fill='#686868'/>
<circle cx='492.0' cy='1652.1' r='4.2' fill='#6c6c6c'/>
<circle cx='494.6' cy='1654.5' r='3.8' fill='#646464'/>
<circle cx='498.3' cy='1657.5' r='4.3' fill='#626262'/>
<circle cx='498.9' cy='1664.6' r='3.5' fill='#707070'/>
<circle cx='501.5' cy='1666.0' r='3.0' fill='#616161'/>
<circle cx='504.9' cy='1668.1' r='3.8' fill='#656565'/>
<circle cx='508.7' cy='1668.3' r='3.3' fill='#8c8c8c'/>
<circle cx='510.7' cy='1670.9' r='3.1' fill='#666666'/>
<circle cx='513.7' cy='1674.6' r='4.1' fill='#676767'/>
<circle cx='519.0' cy='1675.3' r='4.3' fill='#727272'/>
<circle cx='521.3' cy='1678.2' r='4.1' fill='#a5a5a5'/>
<circle cx='521.4' cy='1683.5' r='3.1' fill='#707070'/>
<circle cx='524.2' cy='1684.9' r='3.6' fill='#646464'/>
<circle cx='526.2' cy='1687.8' r='4.1' fill='#8b8b8b'/>
<circle cx='531.0' cy='1686.9' r='3.4' fill='#666666'/>
<circle cx='535.2' cy='1689.7' r='3.7' fill='#6f6f6f'/>
<circle cx='536.2' cy='1694.6' r='3.2' fill='#707070'/>
<circle cx='538.7' cy='1696.1' r='4.4' fill='#646464'/>
<circle cx='542.9' cy='1699.2' r='3.1' fill='#6a6a6a'/>
<circle cx='548.1' cy='1701.1' r='4.3' fill='#616161'/>
<circle cx='548.1' cy='1705.9' r='4.4' fill='#6d6d6d'/>
<circle cx='552.7' cy='1706.5' r='3.5' fill='#8d8d8d'/>
<circle cx='553.0' cy='1711.2' r='4.4' fill='#a7a7a7'/>
<circle cx='556.3' cy='1712.2' r='3.1' fill='#737373'/>
<circle cx='559.7' cy='1715.3' r='4.0' fill='#6a6a6a'/>
<circle cx='563.3' cy='1718.7' r='4.1' fill='#a2a2a2'/>
<circle cx='569.6' cy='1719.2' r='3.6' fill='#707070'/>
<circle cx='572.2' cy='1723.4' r='3.7' fill='#737373'/>
<circle cx='575.7' cy='1724.2' r='4.3' fill='#8b8b8b'/>
<circle cx='578.5' cy='1726.5' r='4.4' fill='#8b8b8b'/>
<ellipse cx='247.4' cy='1435.6' rx='35.2' ry='42.5' transform='rotate(-40 247.4 1435.6)' fill='none' stroke='#222' stroke-width='4' stroke-dasharray='10 7 6 8 14 6'/><ellipse cx='382.3' cy='1460.5' rx='35.2' ry='42.5' transform='rotate(-35 382.3 1460.5)' fill='none' stroke='#222' stroke-width='4' stroke-dasharray='10 7 6 8 14 6'/><ellipse cx='276.7' cy='1592.8' rx='41.0' ry='37.5' transform='rotate(-30 276.7 1592.8)' fill='none' stroke='#222' stroke-width='4' stroke-dasharray='10 7 6 8 14 6'/><ellipse cx='285.5' cy='1223.5' rx='38.1' ry='30.0' transform='rotate(-40 285.5 1223.5)' fill='none' stroke='#222' stroke-width='4' stroke-dasharray='10 7 6 8 14 6'/><ellipse cx='490.8' cy='1535.4' rx='26.4' ry='30.0' transform='rotate(-30 490.8 1535.4)' fill='none' stroke='#222' stroke-width='4' stroke-dasharray='10 7 6 8 14 6'/>
</g>
</g></g>
<rect x='153.5' y='974' width='440.0' height='748.5' fill='none' stroke='#2a2a2a' stroke-width='2'/>
<path d='M153.5,1722.5h18M593.5,1722.5h-18M153.5,1597.8h18M593.5,1597.8h-18M153.5,1473.0h18M593.5,1473.0h-18M153.5,1348.2h18M593.5,1348.2h-18M153.5,1223.5h18M593.5,1223.5h-18M153.5,1098.8h18M593.5,1098.8h-18M153.5,974.0h18M593.5,974.0h-18M153.5,1697.6h9M593.5,1697.6h-9M153.5,1672.6h9M593.5,1672.6h-9M153.5,1647.7h9M593.5,1647.7h-9M153.5,1622.7h9M593.5,1622.7h-9M153.5,1572.8h9M593.5,1572.8h-9M153.5,1547.8h9M593.5,1547.8h-9M153.5,1522.9h9M593.5,1522.9h-9M153.5,1498.0h9M593.5,1498.0h-9M153.5,1448.0h9M593.5,1448.0h-9M153.5,1423.1h9M593.5,1423.1h-9M153.5,1398.2h9M593.5,1398.2h-9M153.5,1373.2h9M593.5,1373.2h-9M153.5,1323.3h9M593.5,1323.3h-9M153.5,1298.3h9M593.5,1298.3h-9M153.5,1273.4h9M593.5,1273.4h-9M153.5,1248.5h9M593.5,1248.5h-9M153.5,1198.5h9M593.5,1198.5h-9M153.5,1173.6h9M593.5,1173.6h-9M153.5,1148.7h9M593.5,1148.7h-9M153.5,1123.7h9M593.5,1123.7h-9M153.5,1073.8h9M593.5,1073.8h-9M153.5,1048.8h9M593.5,1048.8h-9M153.5,1023.9h9M593.5,1023.9h-9M153.5,999.0h9M593.5,999.0h-9M153.5,1722.5v-18M153.5,974v18M182.8,1722.5v-9M182.8,974v9M212.2,1722.5v-9M212.2,974v9M241.5,1722.5v-9M241.5,974v9M270.8,1722.5v-9M270.8,974v9M300.2,1722.5v-18M300.2,974v18M329.5,1722.5v-9M329.5,974v9M358.8,1722.5v-9M358.8,974v9M388.2,1722.5v-9M388.2,974v9M417.5,1722.5v-9M417.5,974v9M446.8,1722.5v-18M446.8,974v18M476.2,1722.5v-9M476.2,974v9M505.5,1722.5v-9M505.5,974v9M534.8,1722.5v-9M534.8,974v9M564.2,1722.5v-9M564.2,974v9M593.5,1722.5v-18M593.5,974v18' stroke='#1a1a40' stroke-width='2' fill='none' opacity='0.5'/>
<text transform='translate(140.00,1733.80) scale(0.98,1)' font-family="'Liberation Serif', 'DejaVu Serif', serif" font-size='34.5' font-weight='bold' font-style='normal' text-anchor='end' fill='#111' >-150</text>
<text transform='translate(140.00,1609.05) scale(0.98,1)' font-family="'Liberation Serif', 'DejaVu Serif', serif" font-size='34.5' font-weight='bold' font-style='normal' text-anchor='end' fill='#111' >-100</text>
<text transform='translate(140.00,1484.30) scale(0.98,1)' font-family="'Liberation Serif', 'DejaVu Serif', serif" font-size='34.5' font-weight='bold' font-style='normal' text-anchor='end' fill='#111' >-50</text>
<text transform='translate(140.00,1359.55) scale(0.98,1)' font-family="'Liberation Serif', 'DejaVu Serif', serif" font-size='34.5' font-weight='bold' font-style='normal' text-anchor='end' fill='#111' >0</text>
<text transform='translate(140.00,1234.80) scale(0.98,1)' font-family="'Liberation Serif', 'DejaVu Serif', serif" font-size='34.5' font-weight='bold' font-style='normal' text-anchor='end' fill='#111' >50</text>
<text transform='translate(140.00,1110.05) scale(0.98,1)' font-family="'Liberation Serif', 'DejaVu Serif', serif" font-size='34.5' font-weight='bold' font-style='normal' text-anchor='end' fill='#111' >100</text>
<text transform='translate(140.00,985.30) scale(0.98,1)' font-family="'Liberation Serif', 'DejaVu Serif', serif" font-size='34.5' font-weight='bold' font-style='normal' text-anchor='end' fill='#111' >150</text>
<text transform='translate(153.00,1765.00) scale(0.98,1)' font-family="'Liberation Serif', 'DejaVu Serif', serif" font-size='34.5' font-weight='bold' font-style='normal' text-anchor='middle' fill='#111' >0</text>
<text transform='translate(299.67,1765.00) scale(0.98,1)' font-family="'Liberation Serif', 'DejaVu Serif', serif" font-size='34.5' font-weight='bold' font-style='normal' text-anchor='middle' fill='#111' >50</text>
<text transform='translate(446.33,1765.00) scale(0.98,1)' font-family="'Liberation Serif', 'DejaVu Serif', serif" font-size='34.5' font-weight='bold' font-style='normal' text-anchor='middle' fill='#111' >100</text>
<text transform='translate(593.00,1765.00) scale(0.98,1)' font-family="'Liberation Serif', 'DejaVu Serif', serif" font-size='34.5' font-weight='bold' font-style='normal' text-anchor='middle' fill='#111' >150</text>
<text transform='translate(309.20,1808.80) scale(1.148,1)' font-family="'Liberation Serif', 'DejaVu Serif', serif" font-size='34.86' font-weight='bold' font-style='normal' fill='#111'>f</text>
<text transform='translate(321.67,1826.60) scale(0.950,1)' font-family="'Liberation Serif', 'DejaVu Serif', serif" font-size='29.31' font-weight='bold' font-style='normal' fill='#111'>1</text>
<text transform='translate(345.21,1809.55) scale(1.029,1)' font-family="'Liberation Serif', 'DejaVu Serif', serif" font-size='36.44' font-weight='bold' font-style='normal' fill='#111'>(kHz)</text>
<g transform='translate(46,1412) rotate(-90)'><text transform='translate(-0.22,0.00) scale(1.219,1)' font-family="'Liberation Serif', 'DejaVu Serif', serif" font-size='35.71' font-weight='bold' font-style='normal' fill='#111'>f</text></g>
<g transform='translate(46,1412) rotate(-90)'><text transform='translate(12.55,17.70) scale(1.066,1)' font-family="'Liberation Serif', 'DejaVu Serif', serif" font-size='29.39' font-weight='bold' font-style='normal' fill='#111'>2</text></g>
<g transform='translate(46,1412) rotate(-90)'><text transform='translate(36.12,0.04) scale(1.034,1)' font-family="'Liberation Serif', 'DejaVu Serif', serif" font-size='36.00' font-weight='bold' font-style='normal' fill='#111'>(kHz)</text></g>
<text transform='translate(197.00,150.89) scale(1.039,1)' font-family="'Liberation Sans', 'DejaVu Sans', sans-serif" font-size='48.13' font-weight='normal' font-style='normal' fill='#fff'>(a)</text>
<text transform='translate(331.03,162.50) scale(1.049,1)' font-family="'Liberation Serif', 'DejaVu Serif', serif" font-size='50.76' font-weight='normal' font-style='italic' fill='#fff'>H</text>
<text transform='translate(393.76,162.03) scale(1.145,1)' font-family="'Liberation Serif', 'DejaVu Serif', serif" font-size='47.50' font-weight='normal' font-style='italic' fill='#fff'>plasma</text>
<text transform='translate(195.96,1049.18) scale(1.063,1)' font-family="'Liberation Sans', 'DejaVu Sans', sans-serif" font-size='47.70' font-weight='normal' font-style='normal' fill='#fff'>(c)</text>
<text transform='translate(331.02,1061.00) scale(1.018,1)' font-family="'Liberation Serif', 'DejaVu Serif', serif" font-size='51.53' font-weight='normal' font-style='italic' fill='#fff'>D</text>
<text transform='translate(390.79,1060.60) scale(1.136,1)' font-family="'Liberation Serif', 'DejaVu Serif', serif" font-size='48.33' font-weight='normal' font-style='italic' fill='#fff'>plasma</text>
<rect x='643' y='76.5' width='50.5' height='747.0' fill='url(#jetg)' stroke='#555' stroke-width='1.5'/>
<text transform='translate(706.30,751.90) scale(0.942,1)' font-family="'Liberation Serif', 'DejaVu Serif', serif" font-size='32.5' font-weight='bold' font-style='normal' text-anchor='start' fill='#111' >0.05</text>
<text transform='translate(706.30,668.90) scale(0.942,1)' font-family="'Liberation Serif', 'DejaVu Serif', serif" font-size='32.5' font-weight='bold' font-style='normal' text-anchor='start' fill='#111' >0.1</text>
<text transform='translate(706.30,585.90) scale(0.942,1)' font-family="'Liberation Serif', 'DejaVu Serif', serif" font-size='32.5' font-weight='bold' font-style='normal' text-anchor='start' fill='#111' >0.15</text>
<text transform='translate(706.30,502.90) scale(0.942,1)' font-family="'Liberation Serif', 'DejaVu Serif', serif" font-size='32.5' font-weight='bold' font-style='normal' text-anchor='start' fill='#111' >0.2</text>
<text transform='translate(706.30,419.90) scale(0.942,1)' font-family="'Liberation Serif', 'DejaVu Serif', serif" font-size='32.5' font-weight='bold' font-style='normal' text-anchor='start' fill='#111' >0.25</text>
<text transform='translate(706.30,336.90) scale(0.942,1)' font-family="'Liberation Serif', 'DejaVu Serif', serif" font-size='32.5' font-weight='bold' font-style='normal' text-anchor='start' fill='#111' >0.3</text>
<text transform='translate(706.30,253.90) scale(0.942,1)' font-family="'Liberation Serif', 'DejaVu Serif', serif" font-size='32.5' font-weight='bold' font-style='normal' text-anchor='start' fill='#111' >0.35</text>
<text transform='translate(706.30,170.90) scale(0.942,1)' font-family="'Liberation Serif', 'DejaVu Serif', serif" font-size='32.5' font-weight='bold' font-style='normal' text-anchor='start' fill='#111' >0.4</text>
<text transform='translate(706.30,87.90) scale(0.942,1)' font-family="'Liberation Serif', 'DejaVu Serif', serif" font-size='32.5' font-weight='bold' font-style='normal' text-anchor='start' fill='#111' >0.45</text>
<path d='M693.5,740.5h-7M693.5,657.5h-7M693.5,574.5h-7M693.5,491.5h-7M693.5,408.5h-7M693.5,325.5h-7M693.5,242.5h-7M693.5,159.5h-7M693.5,76.5h-7' stroke='#222' stroke-width='1.5' opacity='0.7'/>
<rect x='643' y='975.5' width='50.5' height='745.5' fill='url(#jetg)' stroke='#555' stroke-width='1.5'/>
<text transform='translate(706.30,1649.57) scale(0.942,1)' font-family="'Liberation Serif', 'DejaVu Serif', serif" font-size='32.5' font-weight='bold' font-style='normal' text-anchor='start' fill='#111' >0.02</text>
<text transform='translate(706.30,1566.73) scale(0.942,1)' font-family="'Liberation Serif', 'DejaVu Serif', serif" font-size='32.5' font-weight='bold' font-style='normal' text-anchor='start' fill='#111' >0.04</text>
<text transform='translate(706.30,1483.90) scale(0.942,1)' font-family="'Liberation Serif', 'DejaVu Serif', serif" font-size='32.5' font-weight='bold' font-style='normal' text-anchor='start' fill='#111' >0.06</text>
<text transform='translate(706.30,1401.07) scale(0.942,1)' font-family="'Liberation Serif', 'DejaVu Serif', serif" font-size='32.5' font-weight='bold' font-style='normal' text-anchor='start' fill='#111' >0.08</text>
<text transform='translate(706.30,1318.23) scale(0.942,1)' font-family="'Liberation Serif', 'DejaVu Serif', serif" font-size='32.5' font-weight='bold' font-style='normal' text-anchor='start' fill='#111' >0.1</text>
<text transform='translate(706.30,1235.40) scale(0.942,1)' font-family="'Liberation Serif', 'DejaVu Serif', serif" font-size='32.5' font-weight='bold' font-style='normal' text-anchor='start' fill='#111' >0.12</text>
<text transform='translate(706.30,1152.57) scale(0.942,1)' font-family="'Liberation Serif', 'DejaVu Serif', serif" font-size='32.5' font-weight='bold' font-style='normal' text-anchor='start' fill='#111' >0.14</text>
<text transform='translate(706.30,1069.73) scale(0.942,1)' font-family="'Liberation Serif', 'DejaVu Serif', serif" font-size='32.5' font-weight='bold' font-style='normal' text-anchor='start' fill='#111' >0.16</text>
<text transform='translate(706.30,986.90) scale(0.942,1)' font-family="'Liberation Serif', 'DejaVu Serif', serif" font-size='32.5' font-weight='bold' font-style='normal' text-anchor='start' fill='#111' >0.18</text>
<path d='M693.5,1638.2h-7M693.5,1555.3h-7M693.5,1472.5h-7M693.5,1389.7h-7M693.5,1306.8h-7M693.5,1224.0h-7M693.5,1141.2h-7M693.5,1058.3h-7M693.5,975.5h-7' stroke='#222' stroke-width='1.5' opacity='0.7'/>
<path d='M996.5,674.6H1467.75M996.5,525.2H1467.75M996.5,375.8H1467.75M996.5,226.4H1467.75M1209.4,77V824' stroke='#dedede' stroke-width='2' fill='none'/>
<path d='M1028.8,77V824M1074.3,77V824M1106.6,77V824M1131.6,77V824M1152.1,77V824M1169.4,77V824M1184.3,77V824M1197.6,77V824M1287.2,77V824M1332.7,77V824M1364.9,77V824M1390.0,77V824M1410.4,77V824M1427.7,77V824M1442.7,77V824M1455.9,77V824' stroke='#c8c8c8' stroke-width='3' stroke-dasharray='2.5,3.5' fill='none'/>
<path d='M996.5,794.1h10M1467.75,794.1h-10M996.5,764.2h10M1467.75,764.2h-10M996.5,734.4h10M1467.75,734.4h-10M996.5,704.5h10M1467.75,704.5h-10M996.5,674.6h17M1467.75,674.6h-17M996.5,644.7h10M1467.75,644.7h-10M996.5,614.8h10M1467.75,614.8h-10M996.5,585.0h10M1467.75,585.0h-10M996.5,555.1h10M1467.75,555.1h-10M996.5,525.2h17M1467.75,525.2h-17M996.5,495.3h10M1467.75,495.3h-10M996.5,465.4h10M1467.75,465.4h-10M996.5,435.6h10M1467.75,435.6h-10M996.5,405.7h10M1467.75,405.7h-10M996.5,375.8h17M1467.75,375.8h-17M996.5,345.9h10M1467.75,345.9h-10M996.5,316.0h10M1467.75,316.0h-10M996.5,286.2h10M1467.75,286.2h-10M996.5,256.3h10M1467.75,256.3h-10M996.5,226.4h17M1467.75,226.4h-17M996.5,196.5h10M1467.75,196.5h-10M996.5,166.6h10M1467.75,166.6h-10M996.5,136.8h10M1467.75,136.8h-10M996.5,106.9h10M1467.75,106.9h-10M1028.8,824v-10M1028.8,77v10M1074.3,824v-10M1074.3,77v10M1106.6,824v-10M1106.6,77v10M1131.6,824v-10M1131.6,77v10M1152.1,824v-10M1152.1,77v10M1169.4,824v-10M1169.4,77v10M1184.3,824v-10M1184.3,77v10M1197.6,824v-10M1197.6,77v10M1287.2,824v-10M1287.2,77v10M1332.7,824v-10M1332.7,77v10M1364.9,824v-10M1364.9,77v10M1390.0,824v-10M1390.0,77v10M1410.4,824v-10M1410.4,77v10M1427.7,824v-10M1427.7,77v10M1442.7,824v-10M1442.7,77v10M1455.9,824v-10M1455.9,77v10M1209.4,824v-17M1209.4,77v17' stroke='#3a3a3a' stroke-width='3' fill='none'/>
<path d='M1004.3,792.5 L1082.2,671.7 L1128.0,218.8 L1160.0,628.0 L1185.5,778.0 L1206.5,746.0 L1223.0,774.5 L1237.0,779.0 L1251.0,745.5 L1262.0,776.0 L1273.5,788.5 L1284.0,765.5 L1300.5,800.0 L1309.0,768.5 L1322.0,790.0 L1329.5,768.5 L1340.0,793.5 L1346.5,767.0 L1354.5,793.0 L1361.0,769.0 L1369.0,792.5 L1374.5,774.0 L1382.5,797.5 L1386.5,763.5 L1393.0,789.0 L1397.5,763.0 L1404.0,793.0 L1407.0,767.0 L1413.0,793.5 L1416.0,760.0 L1421.0,781.5 L1424.5,763.5 L1429.5,791.0 L1431.5,758.5 L1436.5,794.5 L1439.0,758.0 L1442.5,793.0 L1446.0,770.0 L1450.0,789.0 L1452.5,757.0 L1456.0,805.0 L1459.0,772.0 L1462.0,799.0 L1465.5,769.0 L1467.0,782.0' stroke='#0000ff' stroke-width='3.3' fill='none' stroke-linejoin='round'/>
<rect x='996.5' y='77' width='471.25' height='747' fill='none' stroke='#3a3a3a' stroke-width='3.5'/>
<text transform='translate(982.50,835.60)' font-family="'Liberation Serif', 'DejaVu Serif', serif" font-size='34.2' font-weight='bold' font-style='normal' text-anchor='end' fill='#111' >0</text>
<text transform='translate(982.50,686.20)' font-family="'Liberation Serif', 'DejaVu Serif', serif" font-size='34.2' font-weight='bold' font-style='normal' text-anchor='end' fill='#111' >0.05</text>
<text transform='translate(982.50,536.80)' font-family="'Liberation Serif', 'DejaVu Serif', serif" font-size='34.2' font-weight='bold' font-style='normal' text-anchor='end' fill='#111' >0.1</text>
<text transform='translate(982.50,387.40)' font-family="'Liberation Serif', 'DejaVu Serif', serif" font-size='34.2' font-weight='bold' font-style='normal' text-anchor='end' fill='#111' >0.15</text>
<text transform='translate(982.50,238.00)' font-family="'Liberation Serif', 'DejaVu Serif', serif" font-size='34.2' font-weight='bold' font-style='normal' text-anchor='end' fill='#111' >0.2</text>
<text transform='translate(982.50,88.60)' font-family="'Liberation Serif', 'DejaVu Serif', serif" font-size='34.2' font-weight='bold' font-style='normal' text-anchor='end' fill='#111' >0.25</text>
<text transform='translate(1183.11,878.27) scale(1.094,1)' font-family="'Liberation Serif', 'DejaVu Serif', serif" font-size='33.04' font-weight='bold' font-style='normal' fill='#111'>10</text>
<text transform='translate(1216.88,861.80) scale(0.991,1)' font-family="'Liberation Serif', 'DejaVu Serif', serif" font-size='26.72' font-weight='bold' font-style='normal' fill='#111'>1</text>
<text transform='translate(1442.42,878.27) scale(1.090,1)' font-family="'Liberation Serif', 'DejaVu Serif', serif" font-size='33.04' font-weight='bold' font-style='normal' fill='#111'>10</text>
<text transform='translate(1477.94,861.80) scale(1.000,1)' font-family="'Liberation Serif', 'DejaVu Serif', serif" font-size='26.52' font-weight='bold' font-style='normal' fill='#111'>2</text>
<text transform='translate(1176.38,923.00)' font-family="'Liberation Serif', 'DejaVu Serif', serif" font-size='37.5' font-weight='bold' font-style='normal' text-anchor='start' fill='#111' >f (kHz)</text>
<g transform='translate(907.5,502.3) rotate(-90)'><text transform='translate(-1.86,-0.00) scale(1.219,1)' font-family="'Liberation Serif', 'DejaVu Serif', serif" font-size='38.17' font-weight='normal' font-style='normal' fill='#111'>&#931;</text></g>
<g transform='translate(907.5,502.3) rotate(-90)'><text transform='translate(28.78,-0.00) scale(0.914,1)' font-family="'Liberation Serif', 'DejaVu Serif', serif" font-size='38.17' font-weight='bold' font-style='normal' fill='#111'>B</text></g>
<g transform='translate(907.5,502.3) rotate(-90)'><text transform='translate(53.24,-18.50) scale(0.921,1)' font-family="'Liberation Serif', 'DejaVu Serif', serif" font-size='28.79' font-weight='bold' font-style='normal' fill='#111'>2</text></g>
<g transform='translate(907.5,502.3) rotate(-90)'><text transform='translate(69.09,0.35) scale(0.970,1)' font-family="'Liberation Serif', 'DejaVu Serif', serif" font-size='36.92' font-weight='bold' font-style='normal' fill='#111'>(f)</text></g>
<text transform='translate(1039.92,156.38) scale(1.015,1)' font-family="'Liberation Sans', 'DejaVu Sans', sans-serif" font-size='50.59' font-weight='normal' font-style='normal' fill='#111'>(b)</text>
<path d='M996.5,1572.9H1467.75M996.5,1423.5H1467.75M996.5,1274.1H1467.75M996.5,1124.7H1467.75M1209.4,975.3V1722.3' stroke='#dedede' stroke-width='2' fill='none'/>
<path d='M1028.8,975.3V1722.3M1074.3,975.3V1722.3M1106.6,975.3V1722.3M1131.6,975.3V1722.3M1152.1,975.3V1722.3M1169.4,975.3V1722.3M1184.3,975.3V1722.3M1197.6,975.3V1722.3M1287.2,975.3V1722.3M1332.7,975.3V1722.3M1364.9,975.3V1722.3M1390.0,975.3V1722.3M1410.4,975.3V1722.3M1427.7,975.3V1722.3M1442.7,975.3V1722.3M1455.9,975.3V1722.3' stroke='#c8c8c8' stroke-width='3' stroke-dasharray='2.5,3.5' fill='none'/>
<path d='M996.5,1692.4h10M1467.75,1692.4h-10M996.5,1662.5h10M1467.75,1662.5h-10M996.5,1632.7h10M1467.75,1632.7h-10M996.5,1602.8h10M1467.75,1602.8h-10M996.5,1572.9h17M1467.75,1572.9h-17M996.5,1543.0h10M1467.75,1543.0h-10M996.5,1513.1h10M1467.75,1513.1h-10M996.5,1483.3h10M1467.75,1483.3h-10M996.5,1453.4h10M1467.75,1453.4h-10M996.5,1423.5h17M1467.75,1423.5h-17M996.5,1393.6h10M1467.75,1393.6h-10M996.5,1363.7h10M1467.75,1363.7h-10M996.5,1333.9h10M1467.75,1333.9h-10M996.5,1304.0h10M1467.75,1304.0h-10M996.5,1274.1h17M1467.75,1274.1h-17M996.5,1244.2h10M1467.75,1244.2h-10M996.5,1214.3h10M1467.75,1214.3h-10M996.5,1184.5h10M1467.75,1184.5h-10M996.5,1154.6h10M1467.75,1154.6h-10M996.5,1124.7h17M1467.75,1124.7h-17M996.5,1094.8h10M1467.75,1094.8h-10M996.5,1064.9h10M1467.75,1064.9h-10M996.5,1035.1h10M1467.75,1035.1h-10M996.5,1005.2h10M1467.75,1005.2h-10M1028.8,1722.3v-10M1028.8,975.3v10M1074.3,1722.3v-10M1074.3,975.3v10M1106.6,1722.3v-10M1106.6,975.3v10M1131.6,1722.3v-10M1131.6,975.3v10M1152.1,1722.3v-10M1152.1,975.3v10M1169.4,1722.3v-10M1169.4,975.3v10M1184.3,1722.3v-10M1184.3,975.3v10M1197.6,1722.3v-10M1197.6,975.3v10M1287.2,1722.3v-10M1287.2,975.3v10M1332.7,1722.3v-10M1332.7,975.3v10M1364.9,1722.3v-10M1364.9,975.3v10M1390.0,1722.3v-10M1390.0,975.3v10M1410.4,1722.3v-10M1410.4,975.3v10M1427.7,1722.3v-10M1427.7,975.3v10M1442.7,1722.3v-10M1442.7,975.3v10M1455.9,1722.3v-10M1455.9,975.3v10M1209.4,1722.3v-17M1209.4,975.3v17' stroke='#3a3a3a' stroke-width='3' fill='none'/>
<path d='M1005.0,1652.7 L1029.7,1634.0 L1056.0,1611.5 L1082.2,1587.5 L1105.5,1550.0 L1127.2,1517.0 L1159.5,1515.5 L1185.0,1624.2 L1207.5,1630.0 L1220.0,1660.0 L1238.0,1685.0 L1251.0,1664.0 L1262.0,1663.0 L1273.5,1672.0 L1284.0,1661.0 L1300.0,1675.5 L1309.0,1664.5 L1322.0,1681.0 L1329.0,1675.5 L1342.0,1678.0 L1356.0,1689.0 L1363.0,1682.0 L1370.0,1684.0 L1380.0,1691.5 L1386.0,1687.6 L1392.5,1694.6 L1398.6,1688.5 L1403.0,1692.0 L1407.4,1686.0 L1412.6,1693.0 L1418.7,1694.6 L1424.0,1691.0 L1427.5,1696.4 L1432.0,1690.0 L1436.0,1699.0 L1440.0,1690.0 L1444.0,1695.5 L1448.5,1693.0 L1453.0,1694.6 L1457.0,1694.0 L1461.6,1699.0 L1466.0,1695.5' stroke='#ff0000' stroke-width='3.3' fill='none' stroke-linejoin='round'/>
<rect x='996.5' y='975.3' width='471.25' height='747.0' fill='none' stroke='#3a3a3a' stroke-width='3.5'/>
<text transform='translate(982.50,1733.90)' font-family="'Liberation Serif', 'DejaVu Serif', serif" font-size='34.2' font-weight='bold' font-style='normal' text-anchor='end' fill='#111' >0</text>
<text transform='translate(982.50,1584.50)' font-family="'Liberation Serif', 'DejaVu Serif', serif" font-size='34.2' font-weight='bold' font-style='normal' text-anchor='end' fill='#111' >0.05</text>
<text transform='translate(982.50,1435.10)' font-family="'Liberation Serif', 'DejaVu Serif', serif" font-size='34.2' font-weight='bold' font-style='normal' text-anchor='end' fill='#111' >0.1</text>
<text transform='translate(982.50,1285.70)' font-family="'Liberation Serif', 'DejaVu Serif', serif" font-size='34.2' font-weight='bold' font-style='normal' text-anchor='end' fill='#111' >0.15</text>
<text transform='translate(982.50,1136.30)' font-family="'Liberation Serif', 'DejaVu Serif', serif" font-size='34.2' font-weight='bold' font-style='normal' text-anchor='end' fill='#111' >0.2</text>
<text transform='translate(982.50,986.90)' font-family="'Liberation Serif', 'DejaVu Serif', serif" font-size='34.2' font-weight='bold' font-style='normal' text-anchor='end' fill='#111' >0.25</text>
<text transform='translate(1183.11,1776.57) scale(1.094,1)' font-family="'Liberation Serif', 'DejaVu Serif', serif" font-size='33.04' font-weight='bold' font-style='normal' fill='#111'>10</text>
<text transform='translate(1216.88,1760.10) scale(0.991,1)' font-family="'Liberation Serif', 'DejaVu Serif', serif" font-size='26.72' font-weight='bold' font-style='normal' fill='#111'>1</text>
<text transform='translate(1442.42,1776.57) scale(1.090,1)' font-family="'Liberation Serif', 'DejaVu Serif', serif" font-size='33.04' font-weight='bold' font-style='normal' fill='#111'>10</text>
<text transform='translate(1477.94,1760.10) scale(1.000,1)' font-family="'Liberation Serif', 'DejaVu Serif', serif" font-size='26.52' font-weight='bold' font-style='normal' fill='#111'>2</text>
<text transform='translate(1176.38,1821.30)' font-family="'Liberation Serif', 'DejaVu Serif', serif" font-size='37.5' font-weight='bold' font-style='normal' text-anchor='start' fill='#111' >f (kHz)</text>
<g transform='translate(907.5,1400.6) rotate(-90)'><text transform='translate(-1.86,-0.00) scale(1.219,1)' font-family="'Liberation Serif', 'DejaVu Serif', serif" font-size='38.17' font-weight='normal' font-style='normal' fill='#111'>&#931;</text></g>
<g transform='translate(907.5,1400.6) rotate(-90)'><text transform='translate(28.78,-0.00) scale(0.914,1)' font-family="'Liberation Serif', 'DejaVu Serif', serif" font-size='38.17' font-weight='bold' font-style='normal' fill='#111'>B</text></g>
<g transform='translate(907.5,1400.6) rotate(-90)'><text transform='translate(53.24,-18.50) scale(0.921,1)' font-family="'Liberation Serif', 'DejaVu Serif', serif" font-size='28.79' font-weight='bold' font-style='normal' fill='#111'>2</text></g>
<g transform='translate(907.5,1400.6) rotate(-90)'><text transform='translate(69.09,0.35) scale(0.970,1)' font-family="'Liberation Serif', 'DejaVu Serif', serif" font-size='36.92' font-weight='bold' font-style='normal' fill='#111'>(f)</text></g>
<text transform='translate(1049.22,1052.67) scale(1.042,1)' font-family="'Liberation Sans', 'DejaVu Sans', sans-serif" font-size='49.20' font-weight='normal' font-style='normal' fill='#111'>(d)</text>
<text transform='translate(1209.54,167.69) scale(1.135,1)' font-family="'Liberation Serif', 'DejaVu Serif', serif" font-size='52.08' font-weight='normal' font-style='normal' fill='#111'>&lt;</text>
<text transform='translate(1254.93,161.62) scale(1.333,1)' font-family="'Liberation Serif', 'DejaVu Serif', serif" font-size='44.33' font-weight='normal' font-style='italic' fill='#111'>&#241;</text>
<text transform='translate(1282.46,168.15) scale(1.396,1)' font-family="'Liberation Serif', 'DejaVu Serif', serif" font-size='24.79' font-weight='normal' font-style='italic' fill='#111'>e</text>
<text transform='translate(1299.57,161.62) scale(1.246,1)' font-family="'Liberation Serif', 'DejaVu Serif', serif" font-size='44.33' font-weight='normal' font-style='italic' fill='#111'>&#241;</text>
<text transform='translate(1326.00,168.15) scale(1.345,1)' font-family="'Liberation Serif', 'DejaVu Serif', serif" font-size='24.79' font-weight='normal' font-style='italic' fill='#111'>e</text>
<text transform='translate(1342.57,161.62) scale(1.246,1)' font-family="'Liberation Serif', 'DejaVu Serif', serif" font-size='44.33' font-weight='normal' font-style='italic' fill='#111'>&#241;</text>
<text transform='translate(1369.38,151.52) scale(1.141,1)' font-family="'Liberation Serif', 'DejaVu Serif', serif" font-size='28.49' font-weight='normal' font-style='normal' fill='#111'>*</text>
<text transform='translate(1370.00,172.05) scale(1.333,1)' font-family="'Liberation Serif', 'DejaVu Serif', serif" font-size='25.00' font-weight='normal' font-style='italic' fill='#111'>e</text>
<text transform='translate(1399.99,167.69) scale(1.156,1)' font-family="'Liberation Serif', 'DejaVu Serif', serif" font-size='52.08' font-weight='normal' font-style='normal' fill='#111'>&gt;</text>
<text transform='translate(1217.34,1068.19) scale(1.135,1)' font-family="'Liberation Serif', 'DejaVu Serif', serif" font-size='52.08' font-weight='normal' font-style='normal' fill='#111'>&lt;</text>
<text transform='translate(1262.73,1062.12) scale(1.333,1)' font-family="'Liberation Serif', 'DejaVu Serif', serif" font-size='44.33' font-weight='normal' font-style='italic' fill='#111'>&#241;</text>
<text transform='translate(1290.26,1068.65) scale(1.396,1)' font-family="'Liberation Serif', 'DejaVu Serif', serif" font-size='24.79' font-weight='normal' font-style='italic' fill='#111'>e</text>
<text transform='translate(1307.37,1062.12) scale(1.246,1)' font-family="'Liberation Serif', 'DejaVu Serif', serif" font-size='44.33' font-weight='normal' font-style='italic' fill='#111'>&#241;</text>
<text transform='translate(1333.80,1068.65) scale(1.345,1)' font-family="'Liberation Serif', 'DejaVu Serif', serif" font-size='24.79' font-weight='normal' font-style='italic' fill='#111'>e</text>
<text transform='translate(1350.37,1062.12) scale(1.246,1)' font-family="'Liberation Serif', 'DejaVu Serif', serif" font-size='44.33' font-weight='normal' font-style='italic' fill='#111'>&#241;</text>
<text transform='translate(1377.17,1052.02) scale(1.141,1)' font-family="'Liberation Serif', 'DejaVu Serif', serif" font-size='28.49' font-weight='normal' font-style='normal' fill='#111'>*</text>
<text transform='translate(1377.80,1072.55) scale(1.333,1)' font-family="'Liberation Serif', 'DejaVu Serif', serif" font-size='25.00' font-weight='normal' font-style='italic' fill='#111'>e</text>
<text transform='translate(1407.79,1068.19) scale(1.156,1)' font-family="'Liberation Serif', 'DejaVu Serif', serif" font-size='52.08' font-weight='normal' font-style='normal' fill='#111'>&gt;</text></svg></body></html>
